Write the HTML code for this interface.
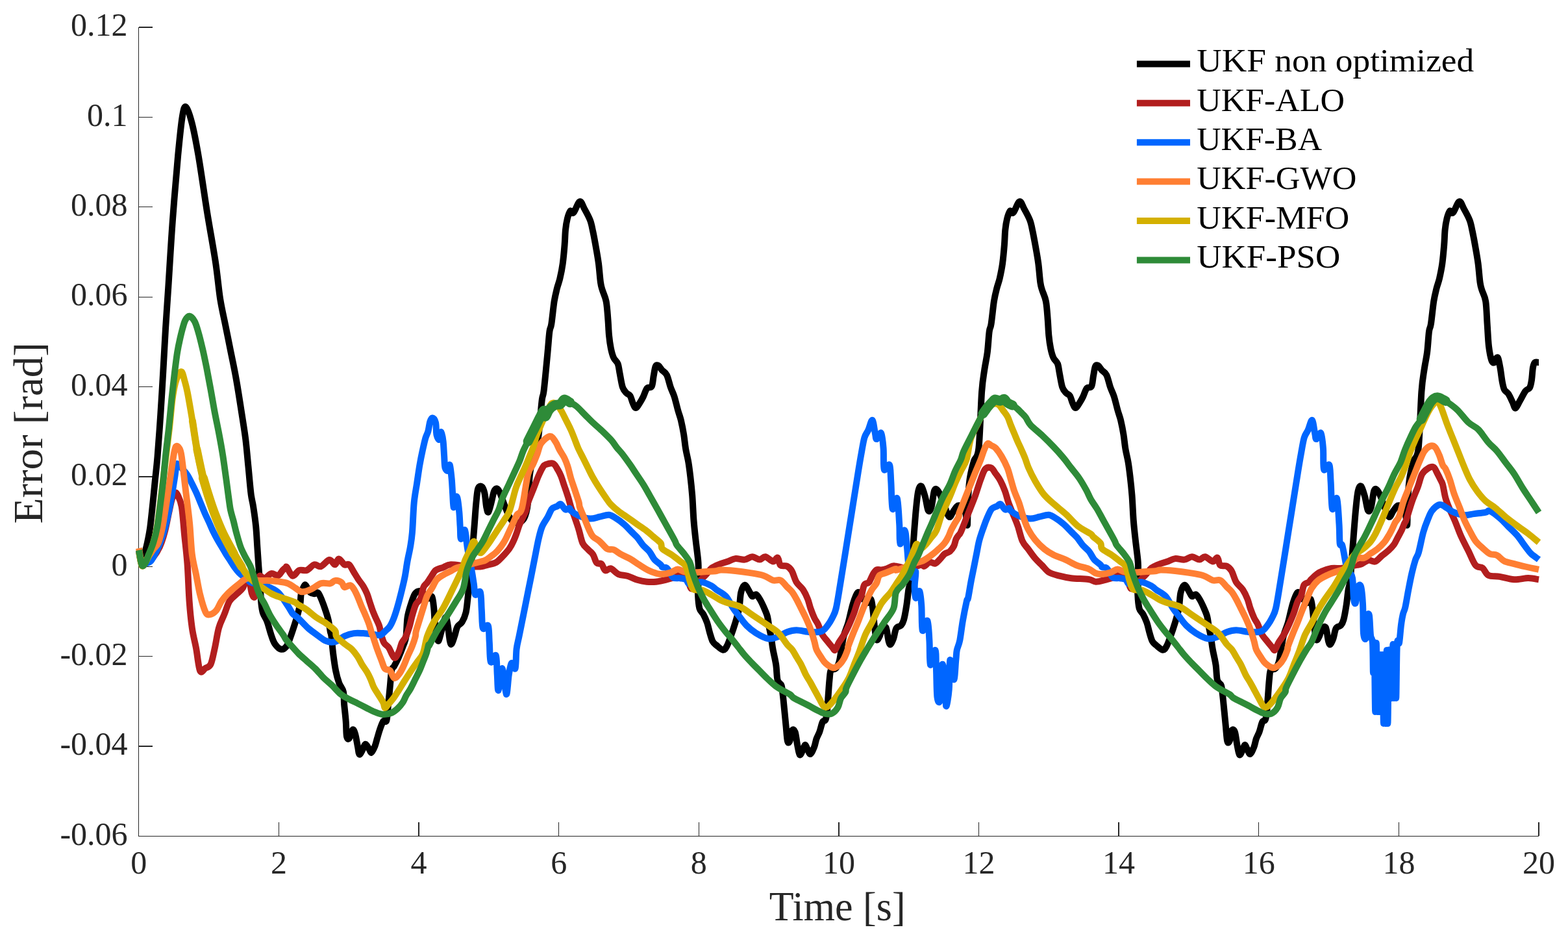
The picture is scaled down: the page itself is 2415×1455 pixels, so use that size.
<!DOCTYPE html>
<html><head><meta charset="utf-8"><title>Error plot</title>
<style>html,body{margin:0;padding:0;background:#fff;}body{width:2415px;height:1455px;overflow:hidden;}</style>
</head><body>
<svg width="2415" height="1455" viewBox="0 0 2415 1455" style="display:block">
<rect width="2415" height="1455" fill="#ffffff"/>
<g stroke="#262626" stroke-width="1.3" fill="none" shape-rendering="crispEdges">
<path d="M213.8,42.1V1287.4H2370.0"/>
<path d="M213.8,1287.4V1265.9"/>
<path d="M429.4,1287.4V1265.9"/>
<path d="M645.0,1287.4V1265.9"/>
<path d="M860.7,1287.4V1265.9"/>
<path d="M1076.3,1287.4V1265.9"/>
<path d="M1291.9,1287.4V1265.9"/>
<path d="M1507.5,1287.4V1265.9"/>
<path d="M1723.1,1287.4V1265.9"/>
<path d="M1938.8,1287.4V1265.9"/>
<path d="M2154.4,1287.4V1265.9"/>
<path d="M2370.0,1287.4V1265.9"/>
<path d="M213.8,1287.4H235.3"/>
<path d="M213.8,1149.0H235.3"/>
<path d="M213.8,1010.7H235.3"/>
<path d="M213.8,872.3H235.3"/>
<path d="M213.8,733.9H235.3"/>
<path d="M213.8,595.6H235.3"/>
<path d="M213.8,457.2H235.3"/>
<path d="M213.8,318.8H235.3"/>
<path d="M213.8,180.5H235.3"/>
<path d="M213.8,42.1H235.3"/>
</g>
<g font-family="'Liberation Serif', 'DejaVu Serif', serif" font-size="50" fill="#262626">
<text x="213.8" y="1344.5" text-anchor="middle">0</text>
<text x="429.4" y="1344.5" text-anchor="middle">2</text>
<text x="645.0" y="1344.5" text-anchor="middle">4</text>
<text x="860.7" y="1344.5" text-anchor="middle">6</text>
<text x="1076.3" y="1344.5" text-anchor="middle">8</text>
<text x="1291.9" y="1344.5" text-anchor="middle">10</text>
<text x="1507.5" y="1344.5" text-anchor="middle">12</text>
<text x="1723.1" y="1344.5" text-anchor="middle">14</text>
<text x="1938.8" y="1344.5" text-anchor="middle">16</text>
<text x="2154.4" y="1344.5" text-anchor="middle">18</text>
<text x="2370.0" y="1344.5" text-anchor="middle">20</text>
<text x="196.6" y="1300.6" text-anchor="end">-0.06</text>
<text x="196.6" y="1162.2" text-anchor="end">-0.04</text>
<text x="196.6" y="1023.9" text-anchor="end">-0.02</text>
<text x="196.6" y="885.5" text-anchor="end">0</text>
<text x="196.6" y="747.1" text-anchor="end">0.02</text>
<text x="196.6" y="608.8" text-anchor="end">0.04</text>
<text x="196.6" y="470.4" text-anchor="end">0.06</text>
<text x="196.6" y="332.0" text-anchor="end">0.08</text>
<text x="196.6" y="193.7" text-anchor="end">0.1</text>
<text x="196.6" y="55.3" text-anchor="end">0.12</text>
</g>
<text x="1289.7" y="1417" text-anchor="middle" transform="translate(1289.7,0) scale(0.970,1) translate(-1289.7,0)" font-family="'Liberation Serif', 'DejaVu Serif', serif" font-size="64" fill="#262626">Time [s]</text>
<text transform="translate(65.4,666.7) rotate(-90) scale(1.013,1)" x="0" y="0" text-anchor="middle" font-family="'Liberation Serif', 'DejaVu Serif', serif" font-size="64" fill="#262626">Error [rad]</text>
<g fill="none" stroke-width="10" stroke-linejoin="round" stroke-linecap="butt">
<path stroke="#000000" d="M214.0,848.0C214.8,851.0 216.9,865.9 218.5,866.0C220.1,866.1 222.3,853.5 223.7,848.5C225.1,843.5 225.5,842.3 226.8,836.1C228.1,829.9 229.9,821.6 231.3,811.3C232.7,801.0 234.1,786.6 235.4,774.2C236.7,761.8 237.9,748.9 239.1,737.1C240.3,725.4 241.1,720.2 242.5,703.7C243.9,687.2 245.8,659.8 247.3,637.8C248.8,615.8 250.0,593.9 251.3,571.9C252.6,549.9 253.7,528.0 255.0,506.0C256.4,484.0 257.6,468.0 259.4,440.0C261.2,412.0 263.5,371.5 266.0,338.0C268.5,304.5 271.7,265.4 274.2,239.0C276.7,212.6 278.8,192.0 280.8,179.6C282.8,167.2 283.9,163.0 286.4,164.7C288.9,166.3 292.4,177.1 295.6,189.5C298.8,201.9 301.6,216.5 305.5,239.0C309.4,261.5 314.3,297.2 318.7,324.7C323.1,352.2 328.6,381.4 332.0,404.0C335.4,426.6 336.6,443.8 339.1,460.0C341.7,476.2 344.6,487.6 347.3,501.3C350.1,515.0 352.9,528.8 355.6,542.5C358.4,556.2 361.1,568.3 363.8,583.8C366.6,599.3 369.7,619.8 372.1,635.3C374.5,650.8 376.6,662.9 378.3,676.6C380.0,690.4 381.0,703.9 382.4,717.8C383.8,731.7 385.2,749.6 386.5,760.0C387.8,770.4 388.8,771.5 390.1,780.0C391.4,788.5 393.2,800.6 394.2,810.9C395.2,821.2 395.6,831.6 396.3,841.9C397.0,852.2 397.7,863.1 398.4,872.8C399.1,882.5 399.8,890.5 400.5,900.0C401.2,909.5 401.7,922.6 402.5,930.0C403.3,937.4 403.6,939.8 405.1,944.2C406.6,948.6 409.2,951.1 411.3,956.6C413.4,962.1 415.5,971.5 417.5,977.2C419.5,983.0 420.6,987.3 423.2,991.1C425.8,994.9 430.2,999.3 433.3,999.8C436.4,1000.3 439.6,997.4 442.0,994.0C444.4,990.6 445.9,984.8 447.8,979.5C449.7,974.2 451.9,967.4 453.6,962.1C455.3,956.8 456.6,952.9 458.0,947.6C459.4,942.3 461.3,935.8 462.3,930.2C463.3,924.6 462.8,918.8 463.8,914.2C464.8,909.6 466.9,904.8 468.1,902.6C469.3,900.4 469.6,899.8 471.0,901.2C472.4,902.7 474.6,909.1 476.8,911.3C479.0,913.5 481.9,914.0 484.1,914.2C486.3,914.5 488.0,911.1 489.9,912.8C491.8,914.5 493.8,919.8 495.7,924.4C497.6,929.0 499.8,935.2 501.5,940.3C503.2,945.4 504.6,949.5 505.8,954.8C507.0,960.1 507.9,968.0 508.7,972.2C509.5,976.4 509.8,974.4 510.5,980.0C511.2,985.6 512.0,997.4 513.1,1006.1C514.2,1014.8 515.5,1024.6 517.0,1032.2C518.5,1039.8 520.3,1046.3 522.3,1051.8C524.3,1057.2 527.5,1059.5 528.8,1064.9C530.1,1070.4 529.5,1076.9 530.1,1084.5C530.8,1092.1 532.1,1102.3 532.7,1110.6C533.4,1118.9 533.1,1129.8 534.0,1134.1C534.9,1138.4 536.4,1138.5 537.9,1136.7C539.4,1135.0 541.6,1124.7 543.1,1123.6C544.6,1122.5 545.8,1125.8 547.1,1130.2C548.4,1134.6 549.9,1144.5 551.0,1149.7C552.1,1154.9 552.3,1160.8 553.6,1161.5C554.9,1162.2 557.3,1156.3 558.8,1153.7C560.3,1151.1 561.2,1146.0 562.7,1145.8C564.2,1145.6 566.5,1150.1 568.0,1152.3C569.5,1154.5 570.4,1159.3 571.9,1158.9C573.4,1158.5 575.6,1153.4 577.1,1149.7C578.6,1146.0 579.7,1141.1 581.0,1136.7C582.3,1132.3 583.4,1127.9 584.9,1123.6C586.4,1119.2 588.5,1113.0 590.2,1110.6C592.0,1108.2 594.1,1113.6 595.4,1109.3C596.7,1105.0 597.1,1093.0 598.0,1084.5C598.9,1076.0 599.7,1067.0 600.6,1058.3C601.5,1049.6 602.1,1037.6 603.2,1032.2C604.3,1026.8 605.4,1029.0 607.1,1025.7C608.9,1022.4 611.3,1018.0 613.7,1012.6C616.1,1007.2 619.5,998.5 621.5,993.1C623.5,987.7 624.4,987.1 625.4,980.0C626.4,972.9 626.3,959.0 627.6,950.5C628.9,942.0 631.5,934.8 633.4,928.7C635.3,922.7 637.0,917.3 639.2,914.2C641.4,911.1 644.3,909.9 646.5,909.9C648.7,909.9 650.1,912.3 652.3,914.2C654.5,916.1 657.3,920.8 659.5,921.5C661.7,922.2 663.8,916.2 665.3,918.6C666.8,921.0 667.5,929.5 668.2,936.0C668.9,942.5 669.0,950.5 669.7,957.7C670.4,965.0 671.6,974.7 672.6,979.5C673.6,984.3 674.3,987.9 675.5,986.7C676.7,985.5 677.9,978.2 679.8,972.2C681.7,966.2 684.9,948.1 687.1,950.5C689.3,952.9 691.5,979.9 692.9,986.7C694.3,993.5 694.6,992.3 695.8,991.1C697.0,989.9 698.6,983.9 700.1,979.5C701.6,975.1 702.6,968.6 704.5,965.0C706.4,961.4 709.5,961.3 711.7,957.7C713.9,954.1 716.0,949.2 717.5,943.2C719.0,937.2 719.4,930.0 720.4,921.5C721.4,913.0 722.3,902.2 723.3,892.5C724.3,882.8 725.0,877.1 726.2,863.5C727.4,849.9 729.3,825.9 730.5,811.0C731.7,796.1 732.4,783.8 733.4,774.0C734.4,764.2 734.8,756.3 736.3,752.2C737.8,748.1 740.4,748.1 742.1,749.3C743.8,750.5 745.2,754.2 746.4,759.5C747.6,764.8 748.3,776.4 749.3,781.2C750.3,786.0 751.0,789.7 752.2,788.5C753.4,787.3 755.2,779.3 756.6,774.0C758.0,768.7 759.5,760.2 760.9,756.6C762.3,753.0 763.8,752.0 765.3,752.2C766.8,752.4 767.8,754.2 769.6,758.0C771.4,761.8 773.6,768.8 776.0,775.0C778.4,781.2 781.8,790.3 784.1,795.0C786.4,799.7 787.7,801.3 790.0,803.0C792.3,804.7 795.3,805.5 798.0,805.0C800.7,804.5 804.0,802.5 806.0,800.0C808.0,797.5 809.0,794.3 810.2,790.0C811.4,785.7 812.1,783.9 813.1,774.0C814.1,764.1 814.5,742.6 816.0,730.5C817.5,718.4 819.6,711.2 821.8,701.5C824.0,691.8 827.4,682.2 829.1,672.5C830.8,662.8 831.0,653.2 832.0,643.5C833.0,633.8 833.9,621.8 834.9,614.5C835.9,607.2 836.4,612.0 837.8,600.0C839.2,588.0 842.1,557.1 843.5,542.2C844.9,527.3 845.4,517.6 846.4,510.4C847.4,503.2 848.1,506.5 849.3,498.8C850.5,491.1 852.2,473.2 853.6,464.0C855.1,454.8 856.6,449.5 858.0,443.7C859.4,437.9 860.8,435.5 862.3,429.2C863.8,422.9 865.5,414.7 866.7,406.0C867.9,397.3 868.9,385.7 869.6,377.0C870.3,368.3 870.3,360.6 871.0,353.8C871.7,347.0 872.7,341.2 873.9,336.4C875.1,331.6 877.3,326.2 878.3,324.8C879.3,323.4 879.0,327.5 880.0,327.7C881.0,327.9 882.1,329.1 884.3,326.2C886.5,323.3 890.3,311.0 893.0,310.3C895.7,309.6 897.6,317.1 900.3,321.9C903.0,326.7 906.8,333.5 909.0,339.3C911.2,345.1 911.8,349.9 913.3,356.7C914.8,363.5 916.2,371.7 917.7,379.9C919.2,388.1 920.8,396.8 922.0,406.0C923.2,415.2 924.0,428.2 925.0,435.0C926.0,441.8 926.4,441.8 927.8,446.6C929.2,451.4 932.1,456.3 933.6,464.0C935.1,471.7 935.8,484.3 936.5,493.0C937.2,501.7 937.3,509.0 938.0,516.2C938.7,523.4 939.7,530.6 940.9,536.4C942.1,542.2 943.4,547.1 945.2,551.0C947.0,554.9 950.1,556.1 951.6,560.0C953.1,563.9 953.3,568.5 954.5,574.5C955.7,580.5 957.2,591.1 958.9,596.2C960.6,601.3 962.8,602.8 964.7,605.0C966.6,607.2 968.8,606.6 970.5,609.3C972.2,611.9 973.3,617.8 974.8,620.9C976.2,624.0 977.5,628.1 979.2,628.1C980.9,628.1 983.1,623.8 985.0,620.9C986.9,618.0 988.9,614.6 990.8,610.7C992.7,606.8 994.4,600.4 996.6,597.7C998.8,595.1 1002.1,597.9 1003.8,594.8C1005.5,591.6 1005.7,583.9 1006.7,578.8C1007.7,573.7 1008.4,566.9 1009.6,564.3C1010.8,561.6 1012.3,561.9 1014.0,562.9C1015.7,563.9 1017.6,567.7 1019.8,570.1C1022.0,572.5 1024.8,573.0 1027.0,577.4C1029.2,581.8 1030.9,590.7 1032.8,596.2C1034.7,601.8 1036.7,604.7 1038.6,610.7C1040.5,616.8 1042.7,626.5 1044.4,632.5C1046.1,638.5 1047.3,641.0 1048.8,647.0C1050.2,653.0 1051.9,661.5 1053.1,668.7C1054.3,676.0 1054.8,683.2 1056.0,690.5C1057.2,697.8 1059.2,705.0 1060.4,712.2C1061.6,719.5 1062.3,725.5 1063.3,734.0C1064.3,742.5 1065.3,751.8 1066.2,763.0C1067.1,774.2 1067.6,790.2 1068.5,801.5C1069.4,812.8 1070.3,820.6 1071.4,830.5C1072.5,840.4 1074.3,853.5 1075.0,860.6C1075.7,867.7 1075.6,866.4 1075.7,873.0C1075.8,879.6 1075.6,892.9 1075.5,900.0C1075.4,907.1 1074.7,909.4 1075.0,915.6C1075.3,921.8 1076.0,932.0 1077.4,937.0C1078.8,942.0 1081.3,942.1 1083.2,945.7C1085.1,949.3 1087.3,953.9 1089.0,958.7C1090.7,963.5 1091.8,969.9 1093.3,974.7C1094.8,979.5 1096.0,984.6 1097.7,987.7C1099.4,990.8 1100.8,991.3 1103.5,993.5C1106.2,995.7 1110.9,1000.5 1113.6,1000.8C1116.2,1001.0 1117.5,998.4 1119.4,995.0C1121.3,991.6 1123.0,986.5 1125.2,980.5C1127.4,974.5 1130.3,966.0 1132.5,958.7C1134.7,951.5 1136.8,944.7 1138.3,937.0C1139.8,929.3 1139.8,918.3 1141.2,912.3C1142.7,906.2 1144.8,900.9 1147.0,900.7C1149.2,900.5 1152.3,908.0 1154.2,910.9C1156.1,913.8 1156.9,917.4 1158.6,918.1C1160.3,918.8 1162.5,914.5 1164.4,915.2C1166.3,915.9 1168.3,919.4 1170.2,922.5C1172.1,925.6 1174.1,929.8 1176.0,934.1C1177.9,938.5 1180.3,943.3 1181.8,948.6C1183.2,953.9 1183.7,960.7 1184.7,966.0C1185.7,971.3 1186.6,974.8 1187.6,980.5C1188.6,986.2 1189.2,992.8 1190.5,1000.0C1191.8,1007.2 1194.0,1015.7 1195.2,1023.5C1196.4,1031.3 1196.2,1041.7 1197.6,1047.0C1199.0,1052.3 1202.1,1051.3 1203.5,1055.2C1204.9,1059.1 1205.0,1064.0 1205.8,1070.5C1206.6,1077.0 1207.4,1086.2 1208.2,1094.0C1209.0,1101.8 1209.7,1109.7 1210.5,1117.5C1211.3,1125.3 1211.9,1137.1 1212.9,1141.0C1213.9,1144.9 1215.2,1143.7 1216.4,1141.0C1217.6,1138.3 1218.5,1126.9 1219.9,1124.6C1221.3,1122.2 1223.2,1123.2 1224.6,1126.9C1226.0,1130.6 1226.9,1141.0 1228.1,1146.9C1229.3,1152.8 1230.3,1160.8 1231.7,1162.2C1233.1,1163.6 1235.0,1157.6 1236.4,1155.1C1237.8,1152.5 1238.7,1147.3 1239.9,1146.9C1241.1,1146.5 1242.0,1150.5 1243.4,1152.8C1244.8,1155.1 1246.3,1161.4 1248.1,1161.0C1249.9,1160.6 1252.4,1154.3 1254.0,1150.4C1255.6,1146.5 1256.1,1141.4 1257.5,1137.5C1258.9,1133.6 1260.6,1131.2 1262.2,1126.9C1263.8,1122.6 1265.3,1114.7 1266.9,1111.6C1268.5,1108.5 1270.4,1111.0 1271.6,1108.1C1272.8,1105.2 1273.3,1100.3 1274.0,1094.0C1274.7,1087.7 1275.1,1078.3 1275.7,1070.5C1276.3,1062.7 1276.8,1053.5 1277.5,1047.0C1278.2,1040.5 1278.2,1034.6 1279.8,1031.7C1281.4,1028.8 1284.7,1031.8 1286.9,1029.4C1289.1,1027.1 1290.8,1025.8 1292.8,1017.6C1294.8,1009.5 1296.9,990.3 1299.2,980.5C1301.5,970.7 1304.1,967.2 1306.5,958.7C1308.9,950.2 1311.3,937.4 1313.7,929.7C1316.1,922.0 1318.8,914.2 1321.0,912.3C1323.2,910.4 1324.4,915.4 1326.8,918.1C1329.2,920.8 1333.1,927.6 1335.5,928.3C1337.9,929.0 1339.8,921.0 1341.3,922.5C1342.8,924.0 1343.2,929.8 1344.2,937.0C1345.2,944.2 1346.1,958.0 1347.1,966.0C1348.1,974.0 1348.8,982.4 1350.0,984.8C1351.2,987.2 1352.8,983.1 1354.3,980.5C1355.8,977.9 1357.0,971.3 1358.7,968.9C1360.4,966.5 1362.8,962.9 1364.5,966.0C1366.2,969.1 1367.6,983.4 1368.8,987.7C1370.0,992.1 1370.5,992.8 1371.7,992.1C1372.9,991.4 1374.6,987.5 1376.1,983.4C1377.5,979.3 1378.5,970.8 1380.4,967.4C1382.3,964.0 1385.8,965.3 1387.7,963.1C1389.6,960.9 1390.5,959.7 1392.0,954.4C1393.5,949.1 1395.2,938.9 1396.4,931.2C1397.6,923.5 1398.3,914.3 1399.3,908.0C1400.3,901.7 1401.0,904.5 1402.2,893.5C1403.4,882.5 1404.8,860.4 1406.2,842.1C1407.7,823.8 1409.5,798.0 1410.9,783.6C1412.3,769.2 1413.0,761.4 1414.4,755.6C1415.8,749.8 1417.3,747.1 1419.1,748.6C1420.8,750.1 1423.2,758.7 1424.9,764.9C1426.7,771.1 1428.0,783.3 1429.6,786.0C1431.2,788.7 1432.7,786.4 1434.3,781.3C1435.9,776.2 1437.5,760.1 1439.0,755.6C1440.5,751.1 1442.0,753.2 1443.6,754.4C1445.1,755.6 1446.4,758.3 1448.3,762.6C1450.2,766.9 1452.7,774.5 1455.0,780.0C1457.3,785.5 1459.8,794.9 1462.1,795.9C1464.4,796.9 1466.7,789.1 1468.9,786.2C1471.2,783.3 1473.4,779.4 1475.6,778.5C1477.8,777.6 1480.1,779.1 1482.0,781.0C1483.9,782.9 1485.8,786.3 1487.0,790.0C1488.2,793.7 1488.5,800.0 1489.0,803.0C1489.5,806.0 1489.8,810.2 1490.0,808.0C1490.2,805.8 1490.2,798.0 1490.5,790.0C1490.8,782.0 1490.9,769.2 1491.5,760.0C1492.1,750.8 1492.6,743.3 1494.0,735.0C1495.4,726.7 1497.8,717.5 1500.0,710.0C1502.2,702.5 1505.4,707.8 1507.4,690.0C1509.4,672.2 1510.6,623.4 1512.1,603.1C1513.6,582.8 1515.0,578.4 1516.4,568.3C1517.9,558.1 1519.6,551.9 1520.8,542.2C1522.0,532.6 1522.7,517.6 1523.7,510.4C1524.7,503.2 1525.4,506.5 1526.6,498.8C1527.8,491.1 1529.5,473.2 1530.9,464.0C1532.4,454.8 1533.8,449.5 1535.3,443.7C1536.8,437.9 1538.1,435.5 1539.6,429.2C1541.0,422.9 1542.8,414.7 1544.0,406.0C1545.2,397.3 1546.2,385.7 1546.9,377.0C1547.6,368.3 1547.6,360.6 1548.3,353.8C1549.0,347.0 1550.0,341.2 1551.2,336.4C1552.4,331.6 1554.6,326.2 1555.6,324.8C1556.6,323.4 1556.3,327.5 1557.3,327.7C1558.3,327.9 1559.4,329.1 1561.6,326.2C1563.8,323.3 1567.6,311.0 1570.3,310.3C1573.0,309.6 1574.9,317.1 1577.6,321.9C1580.3,326.7 1584.1,333.5 1586.3,339.3C1588.5,345.1 1589.1,349.9 1590.6,356.7C1592.0,363.5 1593.5,371.7 1595.0,379.9C1596.5,388.1 1598.1,396.8 1599.3,406.0C1600.5,415.2 1601.3,428.2 1602.3,435.0C1603.3,441.8 1603.7,441.8 1605.1,446.6C1606.5,451.4 1609.5,456.3 1610.9,464.0C1612.4,471.7 1613.1,484.3 1613.8,493.0C1614.5,501.7 1614.6,509.0 1615.3,516.2C1616.0,523.4 1617.0,530.6 1618.2,536.4C1619.4,542.2 1620.7,547.1 1622.5,551.0C1624.3,554.9 1627.4,556.1 1628.9,560.0C1630.5,563.9 1630.6,568.5 1631.8,574.5C1633.0,580.5 1634.5,591.1 1636.2,596.2C1637.9,601.3 1640.1,602.8 1642.0,605.0C1643.9,607.2 1646.1,606.6 1647.8,609.3C1649.5,611.9 1650.6,617.8 1652.1,620.9C1653.5,624.0 1654.8,628.1 1656.5,628.1C1658.2,628.1 1660.4,623.8 1662.3,620.9C1664.2,618.0 1666.2,614.6 1668.1,610.7C1670.0,606.8 1671.7,600.4 1673.9,597.7C1676.1,595.1 1679.4,597.9 1681.1,594.8C1682.8,591.6 1683.0,583.9 1684.0,578.8C1685.0,573.7 1685.7,566.9 1686.9,564.3C1688.1,561.6 1689.6,561.9 1691.3,562.9C1693.0,563.9 1694.9,567.7 1697.1,570.1C1699.3,572.5 1702.1,573.0 1704.3,577.4C1706.5,581.8 1708.2,590.7 1710.1,596.2C1712.0,601.8 1714.0,604.7 1715.9,610.7C1717.8,616.8 1720.0,626.5 1721.7,632.5C1723.4,638.5 1724.6,641.0 1726.1,647.0C1727.5,653.0 1729.2,661.5 1730.4,668.7C1731.6,676.0 1732.1,683.2 1733.3,690.5C1734.5,697.8 1736.5,705.0 1737.7,712.2C1738.9,719.5 1739.6,725.5 1740.6,734.0C1741.6,742.5 1742.6,751.8 1743.5,763.0C1744.4,774.2 1744.9,790.2 1745.8,801.5C1746.7,812.8 1747.6,820.6 1748.7,830.5C1749.8,840.4 1751.6,853.5 1752.3,860.6C1753.0,867.7 1752.9,866.4 1753.0,873.0C1753.1,879.6 1752.9,892.9 1752.8,900.0C1752.7,907.1 1752.0,909.4 1752.3,915.6C1752.6,921.8 1753.3,932.0 1754.7,937.0C1756.1,942.0 1758.6,942.1 1760.5,945.7C1762.4,949.3 1764.6,953.9 1766.3,958.7C1768.0,963.5 1769.1,969.9 1770.6,974.7C1772.0,979.5 1773.3,984.6 1775.0,987.7C1776.7,990.8 1778.2,991.3 1780.8,993.5C1783.4,995.7 1788.2,1000.5 1790.9,1000.8C1793.5,1001.0 1794.8,998.4 1796.7,995.0C1798.6,991.6 1800.3,986.5 1802.5,980.5C1804.7,974.5 1807.6,966.0 1809.8,958.7C1812.0,951.5 1814.1,944.7 1815.6,937.0C1817.0,929.3 1817.0,918.3 1818.5,912.3C1820.0,906.2 1822.1,900.9 1824.3,900.7C1826.5,900.5 1829.6,908.0 1831.5,910.9C1833.4,913.8 1834.2,917.4 1835.9,918.1C1837.6,918.8 1839.8,914.5 1841.7,915.2C1843.6,915.9 1845.6,919.4 1847.5,922.5C1849.4,925.6 1851.4,929.8 1853.3,934.1C1855.2,938.5 1857.6,943.3 1859.1,948.6C1860.5,953.9 1861.0,960.7 1862.0,966.0C1863.0,971.3 1863.9,974.8 1864.9,980.5C1865.9,986.2 1866.5,992.8 1867.8,1000.0C1869.1,1007.2 1871.3,1015.7 1872.5,1023.5C1873.7,1031.3 1873.5,1041.7 1874.9,1047.0C1876.3,1052.3 1879.4,1051.3 1880.8,1055.2C1882.2,1059.1 1882.3,1064.0 1883.1,1070.5C1883.9,1077.0 1884.7,1086.2 1885.5,1094.0C1886.3,1101.8 1887.0,1109.7 1887.8,1117.5C1888.6,1125.3 1889.2,1137.1 1890.2,1141.0C1891.2,1144.9 1892.5,1143.7 1893.7,1141.0C1894.9,1138.3 1895.8,1126.9 1897.2,1124.6C1898.6,1122.2 1900.5,1123.2 1901.9,1126.9C1903.3,1130.6 1904.2,1141.0 1905.4,1146.9C1906.6,1152.8 1907.6,1160.8 1909.0,1162.2C1910.4,1163.6 1912.3,1157.6 1913.7,1155.1C1915.1,1152.5 1916.0,1147.3 1917.2,1146.9C1918.4,1146.5 1919.3,1150.5 1920.7,1152.8C1922.1,1155.1 1923.6,1161.4 1925.4,1161.0C1927.2,1160.6 1929.7,1154.3 1931.3,1150.4C1932.9,1146.5 1933.4,1141.4 1934.8,1137.5C1936.2,1133.6 1937.9,1131.2 1939.5,1126.9C1941.1,1122.6 1942.6,1114.7 1944.2,1111.6C1945.8,1108.5 1947.7,1111.0 1948.9,1108.1C1950.1,1105.2 1950.6,1100.3 1951.3,1094.0C1952.0,1087.7 1952.4,1078.3 1953.0,1070.5C1953.6,1062.7 1954.1,1053.5 1954.8,1047.0C1955.5,1040.5 1955.5,1034.6 1957.1,1031.7C1958.7,1028.8 1962.0,1031.8 1964.2,1029.4C1966.4,1027.1 1968.0,1025.8 1970.1,1017.6C1972.1,1009.5 1974.2,990.3 1976.5,980.5C1978.8,970.7 1981.4,967.2 1983.8,958.7C1986.2,950.2 1988.6,937.4 1991.0,929.7C1993.4,922.0 1996.1,914.2 1998.3,912.3C2000.5,910.4 2001.7,915.4 2004.1,918.1C2006.5,920.8 2010.4,927.6 2012.8,928.3C2015.2,929.0 2017.1,921.0 2018.6,922.5C2020.0,924.0 2020.5,929.8 2021.5,937.0C2022.5,944.2 2023.4,958.0 2024.4,966.0C2025.4,974.0 2026.1,982.4 2027.3,984.8C2028.5,987.2 2030.1,983.1 2031.6,980.5C2033.0,977.9 2034.3,971.3 2036.0,968.9C2037.7,966.5 2040.1,962.9 2041.8,966.0C2043.5,969.1 2044.9,983.4 2046.1,987.7C2047.3,992.1 2047.8,992.8 2049.0,992.1C2050.2,991.4 2051.9,987.5 2053.4,983.4C2054.8,979.3 2055.8,970.8 2057.7,967.4C2059.6,964.0 2063.1,965.3 2065.0,963.1C2066.9,960.9 2067.9,959.7 2069.3,954.4C2070.8,949.1 2072.5,938.9 2073.7,931.2C2074.9,923.5 2075.6,914.3 2076.6,908.0C2077.6,901.7 2078.3,904.5 2079.5,893.5C2080.7,882.5 2082.1,860.4 2083.5,842.1C2084.9,823.8 2086.8,798.0 2088.2,783.6C2089.6,769.2 2090.3,761.4 2091.7,755.6C2093.1,749.8 2094.6,747.1 2096.4,748.6C2098.1,750.1 2100.4,758.7 2102.2,764.9C2103.9,771.1 2105.3,783.3 2106.9,786.0C2108.5,788.7 2110.0,786.4 2111.6,781.3C2113.2,776.2 2114.8,760.1 2116.3,755.6C2117.9,751.1 2119.3,753.2 2120.9,754.4C2122.4,755.6 2123.7,758.3 2125.6,762.6C2127.5,766.9 2130.0,774.5 2132.3,780.0C2134.6,785.5 2137.1,794.9 2139.4,795.9C2141.7,796.9 2143.9,789.1 2146.2,786.2C2148.4,783.3 2150.7,779.4 2152.9,778.5C2155.1,777.6 2157.4,779.1 2159.3,781.0C2161.2,782.9 2163.1,786.3 2164.3,790.0C2165.5,793.7 2165.8,800.0 2166.3,803.0C2166.8,806.0 2167.1,810.2 2167.3,808.0C2167.6,805.8 2167.6,798.0 2167.8,790.0C2168.1,782.0 2168.2,769.2 2168.8,760.0C2169.4,750.8 2169.9,743.3 2171.3,735.0C2172.7,726.7 2175.1,717.5 2177.3,710.0C2179.5,702.5 2182.7,707.8 2184.7,690.0C2186.7,672.2 2187.9,623.4 2189.4,603.1C2190.9,582.8 2192.2,578.4 2193.7,568.3C2195.1,558.1 2196.9,551.9 2198.1,542.2C2199.3,532.6 2200.0,517.6 2201.0,510.4C2202.0,503.2 2202.7,506.5 2203.9,498.8C2205.1,491.1 2206.8,473.2 2208.2,464.0C2209.6,454.8 2211.2,449.5 2212.6,443.7C2214.0,437.9 2215.4,435.5 2216.9,429.2C2218.3,422.9 2220.1,414.7 2221.3,406.0C2222.5,397.3 2223.5,385.7 2224.2,377.0C2224.9,368.3 2224.9,360.6 2225.6,353.8C2226.3,347.0 2227.3,341.2 2228.5,336.4C2229.7,331.6 2231.9,326.2 2232.9,324.8C2233.9,323.4 2233.6,327.5 2234.6,327.7C2235.6,327.9 2236.7,329.1 2238.9,326.2C2241.1,323.3 2244.9,311.0 2247.6,310.3C2250.3,309.6 2252.2,317.1 2254.9,321.9C2257.6,326.7 2261.4,333.5 2263.6,339.3C2265.8,345.1 2266.4,349.9 2267.9,356.7C2269.3,363.5 2270.9,371.7 2272.3,379.9C2273.8,388.1 2275.4,396.8 2276.6,406.0C2277.8,415.2 2278.6,428.2 2279.6,435.0C2280.6,441.8 2281.0,441.8 2282.4,446.6C2283.8,451.4 2286.8,455.1 2288.2,464.0C2289.6,472.9 2289.9,488.5 2290.7,500.0C2291.5,511.5 2291.9,523.8 2293.0,533.0C2294.1,542.2 2295.9,550.8 2297.3,555.0C2298.8,559.2 2300.4,558.7 2301.7,558.0C2303.0,557.3 2304.0,552.0 2305.0,551.0C2306.0,550.0 2306.6,549.5 2307.5,552.0C2308.4,554.5 2309.4,560.0 2310.5,566.0C2311.6,572.0 2312.7,582.3 2313.8,588.0C2314.9,593.7 2315.4,596.9 2317.0,600.0C2318.6,603.1 2321.1,603.1 2323.2,606.4C2325.3,609.7 2328.0,615.9 2329.8,619.6C2331.6,623.3 2332.4,628.8 2334.2,628.4C2336.0,628.0 2338.2,621.8 2340.8,617.4C2343.4,613.0 2347.0,605.4 2349.5,602.0C2352.0,598.6 2354.4,599.8 2356.0,597.0C2357.6,594.2 2358.2,590.2 2359.0,585.0C2359.8,579.8 2360.2,570.5 2361.0,566.0C2361.8,561.5 2362.5,559.3 2364.0,558.0C2365.5,556.7 2369.0,558.0 2370.0,558.0"/>
<path stroke="#B21E1E" d="M214.0,848.0C214.8,851.7 216.5,867.0 218.5,870.0C220.5,873.0 223.1,868.0 226.0,866.0C228.9,864.0 232.7,862.0 236.0,858.0C239.3,854.0 243.0,848.7 246.0,842.0C249.0,835.3 251.7,826.7 254.0,818.0C256.3,809.3 258.2,798.3 260.0,790.0C261.8,781.7 263.4,773.1 265.0,768.0C266.6,762.9 268.1,760.6 269.4,759.4C270.7,758.2 271.3,757.6 273.0,761.0C274.7,764.4 277.8,769.3 279.7,779.8C281.6,790.2 282.6,809.1 284.1,823.7C285.6,838.4 287.2,850.7 288.5,867.7C289.8,884.7 290.4,909.1 291.6,925.6C292.8,942.1 294.1,954.9 295.8,966.9C297.5,978.9 299.9,986.8 302.0,997.8C304.1,1008.8 305.7,1027.7 308.1,1032.9C310.5,1038.1 313.6,1030.5 316.4,1028.8C319.1,1027.1 322.2,1027.8 324.6,1022.6C327.0,1017.4 328.7,1007.1 330.8,997.8C332.9,988.5 334.6,975.5 337.0,966.9C339.4,958.3 342.6,953.2 345.3,946.3C348.1,939.4 350.4,930.8 353.5,925.6C356.6,920.4 360.4,918.7 363.8,915.3C367.2,911.9 371.8,908.6 374.1,905.0C376.4,901.4 376.9,896.9 377.7,893.4C378.5,889.9 377.8,884.1 378.8,884.1C379.8,884.1 382.4,888.4 383.9,893.4C385.4,898.4 386.6,909.7 388.0,914.0C389.4,918.3 390.9,920.7 392.2,919.2C393.5,917.7 394.8,910.3 396.0,905.0C397.2,899.7 397.5,889.7 399.4,887.2C401.3,884.8 404.5,891.0 407.6,890.3C410.7,889.6 414.5,883.8 417.9,883.1C421.3,882.4 425.3,887.1 428.2,886.2C431.1,885.3 433.5,879.9 435.5,877.9C437.5,875.9 438.9,874.7 440.0,874.0C441.1,873.3 440.2,871.5 442.0,873.6C443.8,875.7 447.6,886.0 450.7,886.7C453.8,887.4 457.3,879.5 460.9,878.0C464.5,876.5 468.6,879.5 472.5,878.0C476.4,876.5 480.5,870.3 484.1,869.3C487.7,868.3 490.3,873.4 494.2,872.2C498.1,871.0 503.7,862.5 507.3,862.0C510.9,861.5 513.6,869.5 516.0,869.3C518.4,869.1 519.4,860.6 521.8,860.6C524.2,860.6 527.9,867.8 530.5,869.3C533.1,870.8 535.3,867.4 537.7,869.3C540.1,871.2 542.6,877.0 545.0,880.9C547.4,884.8 549.8,888.9 552.2,892.5C554.6,896.1 557.3,899.0 559.5,902.6C561.7,906.2 563.6,910.1 565.3,914.2C567.0,918.3 568.1,922.9 569.6,927.3C571.1,931.6 572.5,936.4 574.0,940.3C575.5,944.2 576.6,946.6 578.3,950.5C580.0,954.4 582.6,959.1 584.1,963.5C585.6,967.9 585.8,972.2 587.0,976.6C588.2,981.0 589.5,986.2 591.4,989.6C593.3,993.0 596.4,993.8 598.6,996.9C600.8,1000.0 602.7,1005.9 604.4,1008.5C606.1,1011.1 607.1,1013.8 608.8,1012.8C610.5,1011.8 612.9,1006.6 614.6,1002.7C616.3,998.8 617.2,993.2 618.9,989.6C620.6,986.0 622.8,985.0 624.7,980.9C626.6,976.8 628.8,970.5 630.5,965.0C632.2,959.5 633.2,953.4 634.9,947.6C636.6,941.8 638.5,934.6 640.7,930.2C642.9,925.9 646.0,925.9 647.9,921.5C649.8,917.1 650.6,908.2 652.3,904.1C654.0,900.0 656.2,899.5 658.1,896.8C660.0,894.1 661.7,891.2 663.9,888.1C666.1,885.0 668.0,880.4 671.1,878.0C674.2,875.6 678.8,875.1 682.7,873.6C686.6,872.1 688.1,869.6 694.3,869.3C700.5,869.0 712.5,871.5 720.0,872.0C727.5,872.5 734.9,872.6 739.5,872.4C744.1,872.2 743.9,871.7 747.7,870.7C751.6,869.7 759.2,868.0 762.6,866.6C766.0,865.2 766.1,864.6 768.4,862.5C770.7,860.4 773.9,857.2 776.6,854.2C779.3,851.2 782.5,847.7 784.8,844.3C787.1,840.9 788.8,837.5 790.6,833.6C792.4,829.8 794.1,825.3 795.6,821.2C797.1,817.1 798.1,813.0 799.7,808.9C801.4,804.8 803.8,800.2 805.5,796.5C807.2,792.8 808.7,790.4 810.0,786.6C811.3,782.9 811.1,779.7 813.1,774.0C815.1,768.3 819.1,759.0 821.8,752.2C824.5,745.4 826.7,739.0 829.1,733.4C831.5,727.8 834.3,721.9 836.3,718.9C838.2,715.9 838.2,716.0 840.8,715.1C843.4,714.2 848.9,712.4 852.0,713.8C855.1,715.2 857.4,720.4 859.4,723.7C861.4,727.0 862.6,729.5 864.3,733.6C865.9,737.7 867.4,742.9 869.3,748.5C871.2,754.1 873.9,761.8 875.5,767.0C877.1,772.2 877.5,774.7 879.2,780.0C880.9,785.3 883.7,792.6 885.8,798.6C887.9,804.6 889.7,809.7 891.6,816.0C893.5,822.3 895.0,831.2 897.4,836.3C899.8,841.4 903.5,843.5 906.1,846.4C908.8,849.3 911.1,850.3 913.3,853.7C915.5,857.1 916.9,864.3 919.1,866.7C921.3,869.1 924.2,866.3 926.4,868.2C928.6,870.1 929.8,877.1 932.2,878.3C934.6,879.5 937.5,874.4 940.9,875.4C944.3,876.4 948.1,882.2 952.5,884.1C956.9,886.0 962.2,885.5 967.0,887.0C971.8,888.5 976.7,891.3 981.5,892.8C986.3,894.2 991.2,895.2 996.0,895.7C1000.8,896.2 1005.7,896.2 1010.5,895.7C1015.3,895.2 1020.2,894.0 1025.0,892.8C1029.8,891.6 1034.8,890.2 1039.5,888.5C1044.2,886.8 1049.6,881.5 1053.0,882.6C1056.4,883.7 1058.0,891.0 1060.0,895.0C1062.0,899.0 1062.7,905.6 1064.7,906.4C1066.7,907.2 1069.5,902.4 1072.0,900.0C1074.5,897.6 1077.3,894.7 1080.0,892.0C1082.7,889.3 1085.3,886.9 1088.0,884.0C1090.7,881.1 1092.9,877.1 1096.2,874.6C1099.5,872.1 1103.7,870.5 1107.8,868.8C1111.9,867.1 1116.8,866.0 1120.9,864.5C1125.0,863.0 1128.2,860.6 1132.5,860.1C1136.8,859.6 1142.7,862.1 1147.0,861.6C1151.3,861.1 1154.7,857.2 1158.6,857.2C1162.5,857.2 1166.8,861.6 1170.2,861.6C1173.6,861.6 1175.5,856.7 1178.9,857.2C1182.3,857.7 1187.4,864.2 1190.5,864.5C1193.6,864.8 1195.8,857.7 1197.7,858.7C1199.6,859.7 1199.7,868.1 1202.1,870.3C1204.5,872.5 1209.3,870.2 1212.2,871.7C1215.1,873.2 1217.1,874.9 1219.5,879.0C1221.9,883.1 1223.8,891.6 1226.7,896.4C1229.6,901.2 1234.0,903.6 1236.9,908.0C1239.8,912.4 1242.2,917.7 1244.1,922.5C1246.0,927.3 1246.8,932.2 1248.5,937.0C1250.2,941.8 1252.4,947.4 1254.3,951.5C1256.2,955.6 1258.2,957.5 1260.1,961.6C1262.0,965.7 1263.5,971.8 1265.9,976.1C1268.3,980.5 1271.9,984.3 1274.6,987.7C1277.2,991.1 1279.9,994.2 1281.8,996.4C1283.7,998.6 1284.5,1002.0 1286.2,1000.8C1287.9,999.6 1289.6,993.3 1292.0,989.2C1294.4,985.1 1298.0,980.7 1300.7,976.1C1303.4,971.5 1305.5,966.9 1307.9,961.6C1310.3,956.3 1313.0,950.0 1315.2,944.2C1317.4,938.4 1319.1,931.4 1321.0,926.8C1322.9,922.2 1325.1,921.1 1326.8,916.7C1328.5,912.4 1329.2,904.1 1331.1,900.7C1333.0,897.3 1336.2,899.0 1338.4,896.4C1340.6,893.8 1342.3,887.9 1344.2,884.8C1346.1,881.6 1347.8,878.7 1350.0,877.5C1352.2,876.3 1354.8,877.7 1357.2,877.5C1359.6,877.3 1361.6,877.1 1364.5,876.1C1367.4,875.1 1372.0,872.4 1374.6,871.7C1377.2,871.0 1375.8,871.2 1380.0,871.7C1384.2,872.2 1393.4,875.4 1400.0,875.0C1406.6,874.6 1415.5,870.1 1419.4,869.6C1423.3,869.1 1421.5,872.4 1423.6,871.7C1425.7,871.0 1429.1,866.2 1431.9,865.5C1434.7,864.8 1437.6,868.3 1440.2,867.6C1442.8,866.9 1445.1,863.7 1447.5,861.3C1449.9,858.9 1452.1,855.1 1454.7,853.0C1457.3,850.9 1460.6,851.0 1463.0,848.9C1465.4,846.8 1467.6,843.7 1469.2,840.6C1470.8,837.5 1471.2,833.0 1472.4,830.2C1473.6,827.4 1475.2,825.9 1476.5,824.0C1477.8,822.1 1477.6,824.1 1480.0,818.7C1482.4,813.4 1487.1,800.8 1490.7,791.9C1494.3,783.0 1498.1,774.0 1501.4,765.1C1504.7,756.2 1507.7,745.4 1510.4,738.3C1513.1,731.1 1514.8,725.2 1517.5,722.2C1520.2,719.2 1523.8,719.2 1526.5,720.4C1529.2,721.6 1531.2,726.1 1533.6,729.4C1536.0,732.7 1538.4,735.6 1540.8,740.1C1543.2,744.6 1545.8,750.6 1547.9,756.2C1550.0,761.9 1551.2,768.0 1553.3,774.0C1555.4,780.0 1558.0,785.9 1560.4,791.9C1562.8,797.9 1565.2,802.9 1567.6,809.8C1570.0,816.6 1572.0,827.0 1574.7,833.0C1577.4,839.0 1580.4,841.0 1583.7,845.5C1587.0,850.0 1590.8,855.6 1594.4,859.8C1598.0,864.0 1601.5,867.0 1605.1,870.6C1608.7,874.2 1611.3,878.6 1615.8,881.3C1620.3,884.0 1626.2,885.1 1631.9,886.6C1637.6,888.1 1642.3,889.3 1649.8,890.2C1657.2,891.1 1670.3,891.1 1676.6,892.0C1682.9,892.9 1683.5,895.6 1687.8,895.7C1692.1,895.8 1697.5,894.0 1702.3,892.8C1707.1,891.6 1712.1,890.2 1716.8,888.5C1721.5,886.8 1726.9,881.5 1730.3,882.6C1733.7,883.7 1735.3,891.0 1737.3,895.0C1739.2,899.0 1740.0,905.6 1742.0,906.4C1744.0,907.2 1746.8,902.4 1749.3,900.0C1751.8,897.6 1754.6,894.7 1757.3,892.0C1760.0,889.3 1762.6,886.9 1765.3,884.0C1768.0,881.1 1770.2,877.1 1773.5,874.6C1776.8,872.1 1781.0,870.5 1785.1,868.8C1789.2,867.1 1794.1,866.0 1798.2,864.5C1802.3,863.0 1805.5,860.6 1809.8,860.1C1814.1,859.6 1820.0,862.1 1824.3,861.6C1828.6,861.1 1832.0,857.2 1835.9,857.2C1839.8,857.2 1844.1,861.6 1847.5,861.6C1850.9,861.6 1852.8,856.7 1856.2,857.2C1859.6,857.7 1864.7,864.2 1867.8,864.5C1870.9,864.8 1873.1,857.7 1875.0,858.7C1876.9,859.7 1877.0,868.1 1879.4,870.3C1881.8,872.5 1886.6,870.2 1889.5,871.7C1892.4,873.2 1894.4,874.9 1896.8,879.0C1899.2,883.1 1901.1,891.6 1904.0,896.4C1906.9,901.2 1911.3,903.6 1914.2,908.0C1917.1,912.4 1919.5,917.7 1921.4,922.5C1923.3,927.3 1924.1,932.2 1925.8,937.0C1927.5,941.8 1929.7,947.4 1931.6,951.5C1933.5,955.6 1935.5,957.5 1937.4,961.6C1939.3,965.7 1940.8,971.8 1943.2,976.1C1945.6,980.5 1949.2,984.3 1951.9,987.7C1954.5,991.1 1957.2,994.2 1959.1,996.4C1961.0,998.6 1961.8,1002.0 1963.5,1000.8C1965.2,999.6 1966.9,993.3 1969.3,989.2C1971.7,985.1 1975.3,980.7 1978.0,976.1C1980.7,971.5 1982.8,966.9 1985.2,961.6C1987.6,956.3 1990.3,950.0 1992.5,944.2C1994.7,938.4 1996.4,931.4 1998.3,926.8C2000.2,922.2 2002.4,921.1 2004.1,916.7C2005.8,912.4 2006.5,904.1 2008.4,900.7C2010.3,897.3 2013.8,897.9 2015.7,896.4C2017.6,894.9 2017.2,894.0 2020.0,891.5C2022.8,889.0 2027.2,884.0 2032.4,881.2C2037.6,878.5 2045.4,876.0 2050.9,875.0C2056.4,874.0 2060.6,875.5 2065.4,875.0C2070.2,874.5 2075.9,872.8 2080.0,872.0C2084.1,871.2 2087.1,870.7 2090.0,870.0C2092.9,869.3 2094.5,869.2 2097.5,868.0C2100.5,866.8 2104.4,863.1 2107.8,862.5C2111.2,861.9 2114.7,865.6 2118.1,864.5C2121.5,863.4 2125.0,858.5 2128.4,855.6C2131.8,852.8 2135.6,850.3 2138.7,847.4C2141.8,844.5 2144.7,841.6 2147.0,838.4C2149.3,835.2 2150.7,831.5 2152.5,828.1C2154.3,824.7 2156.2,821.5 2158.0,817.8C2159.8,814.1 2161.7,809.0 2163.0,806.0C2164.3,803.0 2164.0,805.7 2166.0,800.0C2168.0,794.3 2171.9,780.3 2174.8,772.0C2177.7,763.7 2181.0,757.0 2183.6,750.0C2186.2,743.0 2187.6,735.0 2190.2,730.2C2192.8,725.4 2196.1,723.2 2199.0,721.4C2201.9,719.6 2205.4,718.1 2207.8,719.2C2210.2,720.3 2211.5,724.7 2213.3,728.0C2215.1,731.3 2217.4,736.0 2218.8,739.0C2220.2,742.0 2220.7,741.4 2222.0,746.0C2223.3,750.6 2224.6,760.5 2226.4,766.9C2228.2,773.3 2230.4,778.3 2233.0,784.5C2235.6,790.7 2238.9,797.3 2241.8,804.3C2244.7,811.3 2247.3,819.0 2250.6,826.3C2253.9,833.6 2257.9,841.0 2261.6,848.3C2265.3,855.6 2268.9,865.9 2272.6,870.3C2276.3,874.7 2280.3,872.1 2283.6,874.7C2286.9,877.3 2288.0,883.5 2292.4,885.7C2296.8,887.9 2303.4,886.8 2310.0,887.9C2316.6,889.0 2324.7,891.9 2332.0,892.3C2339.3,892.7 2347.6,890.1 2353.9,890.1C2360.2,890.1 2367.3,891.9 2370.0,892.3"/>
<path stroke="#0066FF" d="M214.0,849.0C214.8,852.5 216.8,866.8 218.5,870.0C220.2,873.2 221.8,868.9 224.0,868.0C226.2,867.1 229.4,866.7 231.7,864.5C234.0,862.3 235.4,859.3 237.9,854.6C240.4,849.9 243.7,843.3 246.5,836.1C249.3,828.9 251.9,821.6 254.6,811.3C257.3,801.0 260.2,786.6 262.6,774.2C265.0,761.8 267.3,746.4 268.8,737.1C270.3,727.8 270.6,722.5 271.4,718.6C272.2,714.8 271.8,713.3 273.5,714.0C275.2,714.7 279.3,720.0 281.9,723.0C284.5,726.0 286.9,728.6 289.2,732.3C291.5,736.0 293.6,740.6 295.8,745.0C298.0,749.4 300.1,753.6 302.3,758.4C304.5,763.2 306.6,768.8 308.8,774.0C311.0,779.2 313.1,784.7 315.3,789.7C317.5,794.7 319.7,799.2 321.9,804.0C324.1,808.8 326.2,814.0 328.4,818.5C330.6,823.0 332.8,827.1 335.0,831.0C337.2,834.9 339.3,838.3 341.5,842.0C343.7,845.7 345.8,849.5 348.0,853.0C350.2,856.5 352.3,859.6 354.5,862.9C356.7,866.2 358.8,870.0 361.0,873.0C363.2,876.0 365.4,878.9 367.6,881.2C369.8,883.5 371.8,885.2 374.0,887.0C376.2,888.8 378.5,890.1 380.6,891.7C382.7,893.3 383.3,895.5 386.5,896.8C389.7,898.1 395.3,898.5 400.0,899.7C404.7,900.9 409.7,901.9 414.5,904.1C419.3,906.3 424.2,908.0 429.0,912.8C433.8,917.6 439.9,927.8 443.5,933.1C447.1,938.4 448.3,941.8 450.7,944.7C453.1,947.6 455.3,948.1 458.0,950.5C460.7,952.9 463.8,956.3 466.7,959.2C469.6,962.1 472.0,965.0 475.4,967.9C478.8,970.8 482.6,973.5 487.0,976.6C491.4,979.7 496.7,984.8 501.5,986.7C506.3,988.6 511.2,989.4 516.0,988.2C520.8,987.0 525.7,981.7 530.5,979.5C535.3,977.3 540.2,975.8 545.0,975.1C549.8,974.4 554.7,974.9 559.5,975.1C564.3,975.4 569.6,976.1 574.0,976.6C578.4,977.1 582.5,978.7 585.6,978.0C588.7,977.3 590.4,974.4 592.8,972.2C595.2,970.0 597.9,968.1 600.1,965.0C602.3,961.9 604.0,958.2 605.9,953.4C607.8,948.6 609.8,942.5 611.7,936.0C613.6,929.5 615.6,921.9 617.5,914.2C619.4,906.5 621.6,898.1 623.3,889.6C625.0,881.1 626.1,871.5 627.6,863.5C629.1,855.5 630.8,849.0 632.0,841.7C633.2,834.5 633.9,831.3 634.9,820.0C635.9,808.7 636.5,786.5 637.7,774.0C638.9,761.5 640.5,754.7 642.0,745.0C643.5,735.3 644.9,724.5 646.4,716.0C647.9,707.5 649.2,701.0 650.7,694.2C652.2,687.4 653.7,680.5 655.1,675.4C656.5,670.3 658.2,668.1 659.4,663.8C660.6,659.4 661.2,652.7 662.3,649.3C663.4,645.9 664.5,643.3 666.0,643.5C667.5,643.7 669.9,646.4 671.0,650.7C672.1,655.1 671.5,665.2 672.5,669.6C673.5,674.0 675.6,677.5 676.8,676.8C678.0,676.1 678.7,664.7 679.7,665.2C680.7,665.7 681.9,673.7 682.6,679.7C683.3,685.8 683.6,694.7 684.1,701.5C684.6,708.3 684.5,716.4 685.5,720.3C686.5,724.2 688.7,725.4 689.9,724.7C691.1,724.0 691.8,713.8 692.8,716.0C693.8,718.2 695.0,730.5 695.7,737.7C696.4,745.0 696.6,752.2 697.1,759.5C697.6,766.8 697.9,780.0 698.6,781.2C699.3,782.4 700.5,769.1 701.5,766.7C702.5,764.3 703.4,763.1 704.4,766.7C705.4,770.3 706.6,781.1 707.3,788.5C708.0,795.9 708.2,804.1 708.7,811.0C709.2,817.9 708.8,829.1 710.0,829.9C711.2,830.7 714.2,813.6 715.9,815.9C717.5,818.2 718.4,834.8 719.9,843.8C721.4,852.8 723.3,860.7 725.0,870.0C726.7,879.3 728.8,892.0 729.9,899.6C731.0,907.2 730.2,913.6 731.9,915.6C733.5,917.6 738.1,907.6 739.8,911.6C741.4,915.6 741.1,930.2 741.8,939.5C742.5,948.8 742.1,963.4 743.8,967.4C745.5,971.4 750.1,959.8 751.8,963.4C753.5,967.0 753.1,980.0 753.8,989.3C754.5,998.6 754.1,1015.9 755.8,1019.2C757.5,1022.5 762.1,1005.9 763.8,1009.2C765.5,1012.5 765.1,1030.1 765.8,1039.1C766.4,1048.1 766.4,1064.7 767.7,1063.0C769.0,1061.3 771.7,1028.1 773.7,1029.1C775.7,1030.1 778.0,1067.3 779.7,1069.0C781.4,1070.7 782.4,1047.1 783.7,1039.1C785.0,1031.1 786.1,1022.9 787.7,1021.2C789.4,1019.5 792.3,1032.8 793.6,1029.1C794.9,1025.4 794.6,1007.5 795.6,999.2C796.6,990.9 797.9,987.6 799.6,979.3C801.3,971.0 803.6,959.4 805.6,949.4C807.6,939.4 809.6,929.5 811.6,919.5C813.6,909.5 815.6,899.7 817.6,889.7C819.6,879.8 821.5,869.8 823.5,859.8C825.5,849.8 827.6,838.0 829.5,829.9C831.4,821.8 832.5,816.7 834.9,811.0C837.3,805.3 841.2,800.5 843.7,795.9C846.2,791.3 847.7,786.3 850.1,783.5C852.6,780.7 856.2,780.5 858.4,779.3C860.7,778.1 861.5,775.3 863.6,776.2C865.7,777.1 868.6,783.5 870.8,784.5C873.0,785.5 875.5,782.1 877.0,782.5C878.5,782.9 877.6,785.0 880.0,787.0C882.4,789.0 886.8,792.3 891.6,794.2C896.4,796.1 903.7,798.4 909.0,798.6C914.3,798.9 918.7,796.7 923.5,795.7C928.3,794.7 933.6,792.3 938.0,792.8C942.4,793.3 945.7,796.2 949.6,798.6C953.5,801.0 957.3,803.9 961.2,807.3C965.1,810.7 969.4,815.5 972.8,818.9C976.2,822.3 978.6,824.2 981.5,827.6C984.4,831.0 987.1,835.6 990.2,839.2C993.3,842.8 997.4,845.7 1000.3,849.3C1003.2,852.9 1004.7,857.5 1007.6,860.9C1010.5,864.3 1015.6,867.6 1017.7,869.6C1019.8,871.6 1018.5,872.2 1020.0,873.0C1021.5,873.8 1024.9,872.9 1026.9,874.4C1028.9,875.9 1030.3,879.5 1032.0,882.0C1033.7,884.5 1034.6,888.1 1037.2,889.5C1039.8,890.9 1044.3,889.8 1047.5,890.2C1050.7,890.7 1054.1,890.7 1056.4,892.2C1058.7,893.7 1058.9,898.1 1061.2,899.1C1063.5,900.1 1066.5,898.5 1070.0,898.0C1073.5,897.5 1077.6,895.8 1081.9,896.4C1086.2,897.0 1092.0,900.0 1095.6,901.9C1099.2,903.8 1099.8,905.3 1103.5,908.0C1107.2,910.7 1113.7,913.3 1118.0,918.1C1122.3,922.9 1126.2,931.9 1129.6,937.0C1133.0,942.1 1134.9,944.2 1138.3,948.6C1141.7,953.0 1145.6,958.8 1149.9,963.1C1154.2,967.5 1158.9,971.3 1164.4,974.7C1170.0,978.1 1177.7,982.4 1183.2,983.4C1188.8,984.4 1192.9,982.2 1197.7,980.5C1202.5,978.8 1207.4,974.9 1212.2,973.2C1217.0,971.5 1220.7,970.3 1226.7,970.3C1232.8,970.3 1242.0,973.0 1248.5,973.2C1255.0,973.5 1261.6,973.5 1265.9,971.8C1270.2,970.1 1271.9,966.5 1274.6,963.1C1277.2,959.7 1279.6,955.9 1281.8,951.5C1284.0,947.1 1285.6,945.5 1287.6,937.0C1289.6,928.5 1291.4,916.3 1294.0,900.5C1296.6,884.7 1300.3,861.6 1303.4,842.1C1306.5,822.6 1309.8,801.9 1312.7,783.6C1315.6,765.3 1318.6,746.6 1320.9,732.2C1323.2,717.8 1325.0,706.8 1326.8,697.1C1328.5,687.4 1329.7,679.6 1331.4,673.8C1333.2,668.0 1335.3,666.6 1337.3,662.1C1339.3,657.6 1341.8,646.1 1343.6,646.9C1345.3,647.7 1346.7,661.9 1347.8,666.8C1348.9,671.7 1348.5,676.1 1350.1,676.1C1351.6,676.1 1355.3,664.5 1357.1,666.8C1358.8,669.1 1359.8,680.8 1360.6,690.1C1361.4,699.5 1360.2,718.6 1361.8,722.9C1363.4,727.2 1368.2,712.7 1370.0,715.8C1371.8,718.9 1371.5,730.2 1372.3,741.5C1373.1,752.8 1373.1,779.3 1374.7,783.6C1376.3,787.9 1380.0,763.4 1381.7,767.3C1383.5,771.2 1384.4,795.3 1385.2,807.0C1386.0,818.7 1385.0,835.8 1386.4,837.4C1387.8,839.0 1391.7,815.6 1393.4,816.4C1395.2,817.2 1395.9,833.5 1396.9,842.1C1397.9,850.7 1398.0,860.0 1399.2,867.8C1400.4,875.6 1402.1,886.8 1403.9,888.8C1405.8,890.8 1409.5,877.7 1410.3,880.0C1411.1,882.3 1408.7,895.9 1408.7,902.7C1408.7,909.5 1409.0,919.5 1410.3,920.8C1411.6,922.1 1414.8,908.3 1416.3,910.3C1417.8,912.3 1418.5,922.8 1419.3,932.9C1420.0,943.0 1419.3,967.0 1420.8,970.8C1422.3,974.6 1426.6,953.1 1428.4,955.6C1430.2,958.1 1430.7,974.5 1431.4,985.9C1432.2,997.2 1431.4,1021.2 1432.9,1023.7C1434.4,1026.2 1439.0,999.7 1440.5,1001.0C1442.0,1002.3 1441.5,1019.2 1442.0,1031.3C1442.5,1043.4 1442.5,1066.0 1443.5,1073.6C1444.5,1081.1 1446.8,1084.9 1448.1,1076.6C1449.4,1068.3 1449.8,1028.7 1451.1,1023.7C1452.3,1018.7 1454.6,1035.8 1455.6,1046.4C1456.6,1057.0 1456.1,1084.7 1457.1,1087.2C1458.1,1089.7 1460.7,1073.3 1461.7,1061.5C1462.7,1049.7 1462.0,1018.6 1463.2,1016.1C1464.5,1013.6 1467.7,1046.4 1469.2,1046.4C1470.7,1046.4 1471.5,1023.7 1472.3,1016.1C1473.1,1008.5 1472.8,1006.0 1473.8,1001.0C1474.8,996.0 1476.8,993.5 1478.3,985.9C1479.8,978.3 1481.1,965.7 1482.9,955.6C1484.7,945.5 1487.6,931.2 1488.9,925.4C1490.2,919.6 1489.9,926.1 1491.0,921.0C1492.1,915.9 1494.2,902.4 1495.7,894.5C1497.2,886.6 1498.5,880.7 1499.9,873.8C1501.3,866.9 1502.6,859.9 1504.0,853.0C1505.4,846.1 1506.4,839.2 1508.2,832.3C1510.0,825.4 1512.9,817.6 1515.0,811.5C1517.1,805.4 1518.9,800.6 1521.0,795.9C1523.1,791.2 1525.0,786.3 1527.4,783.5C1529.9,780.7 1533.5,780.5 1535.7,779.3C1538.0,778.1 1538.8,775.3 1540.9,776.2C1543.0,777.1 1545.9,783.5 1548.1,784.5C1550.3,785.5 1552.8,782.1 1554.3,782.5C1555.8,782.9 1554.9,785.0 1557.3,787.0C1559.7,789.0 1564.1,792.3 1568.9,794.2C1573.7,796.1 1581.0,798.4 1586.3,798.6C1591.6,798.9 1596.0,796.7 1600.8,795.7C1605.6,794.7 1610.9,792.3 1615.3,792.8C1619.7,793.3 1623.0,796.2 1626.9,798.6C1630.8,801.0 1634.6,803.9 1638.5,807.3C1642.4,810.7 1646.7,815.5 1650.1,818.9C1653.5,822.3 1655.9,824.2 1658.8,827.6C1661.7,831.0 1664.4,835.6 1667.5,839.2C1670.6,842.8 1674.7,845.7 1677.6,849.3C1680.5,852.9 1682.0,857.5 1684.9,860.9C1687.8,864.3 1692.9,867.6 1695.0,869.6C1697.1,871.6 1695.8,872.2 1697.3,873.0C1698.8,873.8 1702.2,872.9 1704.2,874.4C1706.2,875.9 1707.6,879.5 1709.3,882.0C1711.0,884.5 1711.9,888.1 1714.5,889.5C1717.1,890.9 1721.6,889.8 1724.8,890.2C1728.0,890.7 1731.4,890.7 1733.7,892.2C1736.0,893.7 1736.2,898.1 1738.5,899.1C1740.8,900.1 1743.8,898.5 1747.3,898.0C1750.8,897.5 1754.9,895.8 1759.2,896.4C1763.5,897.0 1769.3,900.0 1772.9,901.9C1776.5,903.8 1777.1,905.3 1780.8,908.0C1784.5,910.7 1791.0,913.3 1795.3,918.1C1799.6,922.9 1803.5,931.9 1806.9,937.0C1810.3,942.1 1812.2,944.2 1815.6,948.6C1819.0,953.0 1822.8,958.8 1827.2,963.1C1831.6,967.5 1836.2,971.3 1841.7,974.7C1847.2,978.1 1855.0,982.4 1860.5,983.4C1866.0,984.4 1870.2,982.2 1875.0,980.5C1879.8,978.8 1884.7,974.9 1889.5,973.2C1894.3,971.5 1898.0,970.3 1904.0,970.3C1910.0,970.3 1919.3,973.0 1925.8,973.2C1932.3,973.5 1938.9,973.5 1943.2,971.8C1947.5,970.1 1949.2,966.5 1951.9,963.1C1954.5,959.7 1956.9,955.9 1959.1,951.5C1961.3,947.1 1962.9,945.5 1964.9,937.0C1966.9,928.5 1968.7,916.3 1971.3,900.5C1973.9,884.7 1977.6,861.6 1980.7,842.1C1983.8,822.6 1987.1,801.9 1990.0,783.6C1992.9,765.3 1995.9,746.6 1998.2,732.2C2000.5,717.8 2002.3,706.8 2004.1,697.1C2005.8,687.4 2007.0,679.6 2008.7,673.8C2010.5,668.0 2012.6,666.6 2014.6,662.1C2016.6,657.6 2019.1,646.1 2020.9,646.9C2022.6,647.7 2024.0,661.9 2025.1,666.8C2026.2,671.7 2025.8,676.1 2027.4,676.1C2028.9,676.1 2032.6,664.5 2034.4,666.8C2036.1,669.1 2037.1,680.8 2037.9,690.1C2038.7,699.5 2037.5,718.6 2039.1,722.9C2040.7,727.2 2045.5,712.7 2047.3,715.8C2049.1,718.9 2048.8,730.2 2049.6,741.5C2050.4,752.8 2050.4,779.3 2052.0,783.6C2053.6,787.9 2057.2,763.4 2059.0,767.3C2060.8,771.2 2061.7,795.3 2062.5,807.0C2063.3,818.7 2062.9,831.9 2063.7,837.4C2064.5,842.9 2065.8,834.4 2067.4,840.0C2069.1,845.6 2071.8,864.2 2073.6,870.9C2075.4,877.6 2076.4,876.8 2078.0,880.0C2079.6,883.2 2081.8,883.0 2083.0,890.0C2084.2,897.0 2084.2,915.7 2085.0,922.0C2085.8,928.3 2087.0,930.8 2088.0,928.0C2089.0,925.2 2089.7,909.2 2091.0,905.0C2092.3,900.8 2094.7,898.8 2096.0,903.0C2097.3,907.2 2098.3,918.0 2099.0,930.0C2099.7,942.0 2099.2,966.3 2100.0,975.0C2100.8,983.7 2103.0,986.2 2104.0,982.0C2105.0,977.8 2105.2,955.7 2106.0,950.0C2106.8,944.3 2108.2,943.3 2109.0,948.0C2109.8,952.7 2110.2,971.0 2111.0,978.0C2111.8,985.0 2113.3,980.3 2114.0,990.0C2114.7,999.7 2114.6,1036.0 2115.0,1036.0C2115.4,1036.0 2116.1,980.0 2116.6,990.0C2117.1,1000.0 2117.7,1096.0 2118.2,1096.0C2118.7,1096.0 2119.3,990.0 2119.8,990.0C2120.3,990.0 2120.9,1093.0 2121.4,1096.0C2121.9,1099.0 2122.5,1008.0 2123.0,1008.0C2123.5,1008.0 2124.1,1096.0 2124.6,1096.0C2125.1,1096.0 2125.7,1008.0 2126.2,1008.0C2126.7,1008.0 2127.3,1096.0 2127.8,1096.0C2128.3,1096.0 2128.9,1005.0 2129.4,1008.0C2129.9,1011.0 2130.5,1114.0 2131.0,1114.0C2131.5,1114.0 2132.1,1008.0 2132.6,1008.0C2133.1,1008.0 2133.7,1115.2 2134.2,1114.0C2134.7,1112.8 2135.3,1001.0 2135.8,1001.0C2136.3,1001.0 2136.9,1114.0 2137.4,1114.0C2137.9,1114.0 2138.5,1007.5 2139.0,1001.0C2139.5,994.5 2140.1,1075.0 2140.6,1075.0C2141.1,1075.0 2141.7,1001.0 2142.2,1001.0C2142.7,1001.0 2143.3,1076.5 2143.8,1075.0C2144.3,1073.5 2144.9,992.0 2145.4,992.0C2145.9,992.0 2146.5,1075.0 2147.0,1075.0C2147.5,1075.0 2148.1,992.0 2148.6,992.0C2149.1,992.0 2149.7,1075.0 2150.2,1075.0C2150.7,1075.0 2151.0,1006.2 2151.8,992.0C2152.6,977.8 2154.0,995.0 2155.0,990.0C2156.0,985.0 2157.0,969.5 2158.0,962.0C2159.0,954.5 2159.9,949.5 2161.0,945.0C2162.1,940.5 2162.9,941.2 2164.3,935.0C2165.7,928.8 2167.6,916.8 2169.3,908.0C2171.0,899.2 2172.8,889.7 2174.6,882.0C2176.4,874.3 2178.3,867.3 2180.0,862.0C2181.7,856.7 2183.0,857.3 2185.0,850.3C2187.0,843.3 2189.7,828.4 2192.0,820.0C2194.3,811.6 2196.7,805.6 2199.0,800.0C2201.3,794.4 2202.8,790.0 2205.6,786.3C2208.3,782.5 2212.9,778.9 2215.5,777.5C2218.1,776.1 2219.2,777.1 2221.4,777.9C2223.6,778.7 2225.6,780.5 2228.6,782.3C2231.6,784.1 2235.2,787.1 2239.6,788.9C2244.0,790.7 2249.9,792.9 2255.0,793.3C2260.1,793.7 2264.9,791.8 2270.4,791.1C2275.9,790.4 2284.0,789.6 2288.0,788.9C2292.0,788.2 2290.9,785.2 2294.6,786.7C2298.3,788.2 2305.2,793.7 2310.0,797.7C2314.8,801.7 2318.8,806.5 2323.2,810.9C2327.6,815.3 2332.0,819.0 2336.4,824.1C2340.8,829.2 2345.8,836.9 2349.5,841.7C2353.2,846.5 2354.9,849.4 2358.3,852.7C2361.7,856.0 2368.1,860.0 2370.0,861.5"/>
<path stroke="#FF7F33" d="M214.0,844.0C214.8,848.0 216.7,865.0 218.5,868.0C220.3,871.0 222.1,865.7 225.0,862.0C227.9,858.3 232.9,850.3 236.0,846.0C239.1,841.7 241.2,841.9 243.6,836.1C246.0,830.3 248.2,821.6 250.3,811.3C252.4,801.0 254.4,786.6 256.4,774.2C258.3,761.8 260.1,749.5 262.0,737.1C263.9,724.7 266.1,708.3 267.6,700.0C269.1,691.7 269.5,689.2 270.9,687.5C272.3,685.8 274.5,687.4 276.0,690.0C277.5,692.6 278.0,691.6 279.7,702.9C281.4,714.2 284.2,740.8 286.3,757.8C288.4,774.8 290.4,789.1 292.0,805.0C293.6,820.9 294.1,840.2 295.8,853.4C297.5,866.6 299.9,874.1 302.0,884.4C304.1,894.7 305.7,905.7 308.1,915.3C310.5,924.9 314.0,936.9 316.4,942.1C318.8,947.3 319.9,946.6 322.6,946.3C325.4,946.0 329.8,943.5 332.9,940.1C336.0,936.7 338.0,930.1 341.1,925.6C344.2,921.1 347.4,917.4 351.5,913.3C355.6,909.2 361.1,904.7 365.9,900.9C370.7,897.1 376.2,892.0 380.3,890.6C384.4,889.2 387.3,892.1 390.6,892.6C393.9,893.1 396.0,893.7 400.0,893.9C404.0,894.1 409.7,893.6 414.5,893.9C419.3,894.1 424.2,894.7 429.0,895.4C433.8,896.1 439.1,896.6 443.5,898.3C447.9,900.0 451.5,903.3 455.1,905.5C458.7,907.7 461.1,911.0 465.2,911.3C469.3,911.5 474.9,909.2 479.7,907.0C484.5,904.8 489.4,899.8 494.2,898.3C499.0,896.8 505.1,899.0 508.7,898.3C512.3,897.6 513.1,894.1 516.0,893.9C518.9,893.6 523.7,895.1 526.1,896.8C528.5,898.5 528.3,903.4 530.5,904.1C532.7,904.8 536.8,900.7 539.2,901.2C541.6,901.7 543.1,904.1 545.0,907.0C546.9,909.9 548.9,914.2 550.8,918.6C552.7,923.0 554.7,928.5 556.6,933.1C558.5,937.7 560.5,941.5 562.4,946.1C564.3,950.7 566.5,955.8 568.2,960.6C569.9,965.4 571.5,971.9 572.5,975.1C573.5,978.3 573.1,975.9 574.5,980.0C575.9,984.1 578.8,993.5 581.0,999.6C583.2,1005.7 585.5,1011.6 587.5,1016.6C589.5,1021.6 590.6,1027.0 592.8,1029.6C595.0,1032.2 598.2,1029.8 600.6,1032.2C603.0,1034.6 604.7,1043.1 607.1,1044.0C609.5,1044.9 612.6,1040.5 615.0,1037.4C617.4,1034.4 619.3,1030.3 621.5,1025.7C623.7,1021.1 625.8,1015.0 628.0,1010.0C630.2,1005.0 632.5,1000.7 634.5,995.7C636.5,990.7 638.8,983.9 639.8,980.0C640.8,976.1 639.6,976.6 640.7,972.2C641.8,967.8 644.6,959.7 646.5,953.4C648.4,947.1 650.4,940.5 652.3,934.5C654.2,928.5 655.9,921.9 658.1,917.1C660.3,912.3 662.9,909.6 665.3,905.5C667.7,901.4 669.7,895.9 672.6,892.5C675.5,889.1 679.1,887.4 682.7,885.2C686.3,883.0 691.0,881.1 694.3,879.4C697.6,877.7 698.1,876.4 702.4,874.8C706.7,873.2 713.8,871.6 720.0,870.0C726.2,868.4 734.9,866.2 739.5,865.0C744.1,863.8 745.0,863.9 747.7,862.5C750.5,861.1 753.2,858.8 756.0,856.7C758.8,854.6 761.5,852.9 764.2,850.1C767.0,847.4 770.0,843.6 772.5,840.2C775.0,836.8 777.1,833.4 779.1,829.5C781.1,825.6 782.9,821.2 784.8,817.1C786.7,813.0 788.7,808.8 790.6,804.7C792.5,800.6 794.2,796.1 796.4,792.4C798.6,788.7 801.0,792.8 803.8,782.5C806.6,772.2 810.3,741.6 813.1,730.5C815.9,719.4 818.0,721.3 820.4,716.0C822.8,710.7 825.4,704.2 827.6,698.6C829.8,693.0 830.2,687.1 833.4,682.6C836.6,678.1 843.3,672.2 847.0,671.8C850.7,671.4 853.2,676.9 855.7,680.4C858.2,683.9 859.6,688.7 861.9,692.8C864.2,696.9 867.2,701.1 869.3,705.2C871.3,709.3 872.6,712.4 874.2,717.5C875.9,722.6 877.3,729.9 879.2,736.1C881.1,742.3 883.4,748.4 885.4,754.6C887.4,760.8 890.2,768.8 891.5,773.2C892.8,777.6 891.5,777.0 893.0,781.2C894.5,785.4 897.9,792.8 900.3,798.6C902.7,804.4 905.3,811.4 907.5,816.0C909.7,820.6 910.6,823.2 913.3,826.1C916.0,829.0 919.9,830.2 923.5,833.4C927.1,836.5 931.5,842.8 935.1,845.0C938.7,847.2 941.6,844.9 945.2,846.4C948.8,847.9 952.4,851.3 956.8,853.7C961.1,856.1 966.7,858.2 971.3,860.9C975.9,863.5 979.8,866.7 984.4,869.6C989.0,872.5 994.5,876.1 998.9,878.3C1003.2,880.5 1007.0,881.8 1010.5,882.7C1014.0,883.7 1016.1,884.2 1020.0,884.0C1023.9,883.8 1029.7,882.5 1033.7,881.2C1037.7,879.9 1040.5,876.5 1044.0,876.4C1047.5,876.3 1050.9,879.7 1054.4,880.5C1057.9,881.3 1061.6,880.9 1065.0,881.0C1068.4,881.1 1071.0,881.4 1075.0,881.2C1079.0,881.0 1084.1,880.2 1088.7,879.9C1093.3,879.6 1098.8,879.6 1102.5,879.2C1106.2,878.8 1105.7,877.5 1110.7,877.5C1115.7,877.5 1125.2,878.3 1132.5,879.0C1139.8,879.7 1147.0,880.7 1154.2,881.9C1161.5,883.1 1170.0,884.3 1176.0,886.2C1182.0,888.1 1186.2,892.3 1190.5,893.5C1194.8,894.7 1198.5,891.8 1202.1,893.5C1205.7,895.2 1209.3,900.7 1212.2,903.6C1215.1,906.5 1217.1,907.8 1219.5,910.9C1221.9,914.0 1224.3,918.1 1226.7,922.5C1229.1,926.9 1231.6,932.2 1234.0,937.0C1236.4,941.8 1238.8,946.2 1241.2,951.5C1243.6,956.8 1246.3,962.9 1248.5,968.9C1250.7,974.9 1252.8,982.5 1254.3,987.7C1255.8,992.9 1255.8,996.0 1257.5,1000.0C1259.2,1004.0 1262.2,1008.3 1264.6,1011.8C1266.9,1015.3 1268.5,1018.5 1271.6,1021.2C1274.7,1023.9 1279.9,1027.8 1283.4,1028.2C1286.9,1028.6 1290.1,1025.8 1292.8,1023.5C1295.5,1021.1 1297.6,1018.0 1299.8,1014.1C1302.0,1010.2 1304.6,1003.2 1305.7,1000.0C1306.8,996.8 1305.2,999.0 1306.5,995.0C1307.8,991.0 1311.3,982.1 1313.7,976.1C1316.1,970.1 1318.6,964.7 1321.0,958.7C1323.4,952.7 1325.8,945.9 1328.2,939.9C1330.6,933.9 1333.1,927.8 1335.5,922.5C1337.9,917.2 1340.3,912.1 1342.7,908.0C1345.1,903.9 1348.1,901.4 1350.0,897.8C1351.9,894.2 1351.9,888.9 1354.3,886.2C1356.7,883.6 1360.4,883.6 1364.5,881.9C1368.6,880.2 1376.4,876.8 1379.0,876.1C1381.6,875.4 1378.1,878.1 1380.0,877.9C1381.9,877.7 1385.2,876.7 1390.4,874.8C1395.6,872.9 1405.9,868.4 1411.1,866.5C1416.3,864.6 1418.4,864.8 1421.5,863.4C1424.6,862.0 1427.0,860.1 1429.8,858.2C1432.6,856.3 1435.3,854.2 1438.1,852.0C1440.9,849.8 1443.6,847.3 1446.4,844.7C1449.2,842.1 1452.3,839.5 1454.7,836.4C1457.1,833.3 1459.2,829.5 1460.9,826.0C1462.6,822.5 1463.5,819.0 1465.1,815.7C1466.7,812.4 1468.4,809.6 1470.3,806.3C1472.2,803.0 1475.4,798.4 1476.5,795.9C1477.6,793.4 1476.4,793.1 1477.0,791.0C1477.6,788.9 1477.7,788.8 1480.0,783.0C1482.3,777.2 1487.1,765.1 1490.7,756.2C1494.3,747.3 1498.1,737.5 1501.4,729.4C1504.7,721.3 1508.0,714.1 1510.4,707.9C1512.8,701.7 1514.2,696.1 1516.0,692.0C1517.8,687.9 1519.3,684.0 1521.1,683.0C1522.9,682.0 1524.9,684.8 1527.0,686.0C1529.1,687.2 1531.0,687.2 1533.6,690.0C1536.2,692.8 1539.6,697.5 1542.6,702.6C1545.6,707.7 1549.1,714.5 1551.5,720.4C1553.9,726.3 1555.1,732.3 1556.9,738.3C1558.7,744.3 1560.1,750.2 1562.2,756.2C1564.3,762.2 1567.0,767.1 1569.4,774.0C1571.8,780.9 1574.1,790.4 1576.5,797.3C1578.9,804.2 1580.7,809.6 1583.7,815.2C1586.7,820.9 1590.2,826.2 1594.4,831.2C1598.6,836.2 1603.9,841.6 1608.7,845.5C1613.5,849.4 1617.6,851.8 1623.0,854.5C1628.4,857.2 1635.0,858.9 1640.9,861.6C1646.9,864.3 1652.8,868.2 1658.7,870.6C1664.7,873.0 1671.8,873.9 1676.6,875.9C1681.4,877.9 1684.3,881.4 1687.8,882.7C1691.2,884.1 1693.4,884.2 1697.3,884.0C1701.2,883.8 1707.0,882.5 1711.0,881.2C1715.0,879.9 1717.8,876.5 1721.3,876.4C1724.8,876.3 1728.2,879.7 1731.7,880.5C1735.2,881.3 1738.9,880.9 1742.3,881.0C1745.7,881.1 1748.3,881.4 1752.3,881.2C1756.2,881.0 1761.4,880.2 1766.0,879.9C1770.6,879.6 1776.1,879.6 1779.8,879.2C1783.5,878.8 1783.0,877.5 1788.0,877.5C1793.0,877.5 1802.5,878.3 1809.8,879.0C1817.0,879.7 1824.2,880.7 1831.5,881.9C1838.8,883.1 1847.2,884.3 1853.3,886.2C1859.3,888.1 1863.5,892.3 1867.8,893.5C1872.1,894.7 1875.8,891.8 1879.4,893.5C1883.0,895.2 1886.6,900.7 1889.5,903.6C1892.4,906.5 1894.4,907.8 1896.8,910.9C1899.2,914.0 1901.6,918.1 1904.0,922.5C1906.4,926.9 1908.9,932.2 1911.3,937.0C1913.7,941.8 1916.1,946.2 1918.5,951.5C1920.9,956.8 1923.6,962.9 1925.8,968.9C1928.0,974.9 1930.1,982.5 1931.6,987.7C1933.1,992.9 1933.1,996.0 1934.8,1000.0C1936.5,1004.0 1939.5,1008.3 1941.9,1011.8C1944.2,1015.3 1945.8,1018.5 1948.9,1021.2C1952.0,1023.9 1957.2,1027.8 1960.7,1028.2C1964.2,1028.6 1967.4,1025.8 1970.1,1023.5C1972.8,1021.1 1974.9,1018.0 1977.1,1014.1C1979.2,1010.2 1981.9,1003.2 1983.0,1000.0C1984.1,996.8 1982.5,999.0 1983.8,995.0C1985.1,991.0 1988.6,982.1 1991.0,976.1C1993.4,970.1 1995.9,964.7 1998.3,958.7C2000.7,952.7 2003.1,945.9 2005.5,939.9C2007.9,933.9 2010.4,928.1 2012.8,922.5C2015.2,916.9 2017.1,910.8 2020.0,906.0C2022.9,901.2 2026.2,897.0 2030.3,893.6C2034.4,890.2 2039.6,887.8 2044.7,885.4C2049.8,883.0 2056.4,880.9 2061.2,879.2C2066.0,877.5 2070.0,877.2 2073.6,875.0C2077.2,872.8 2080.2,868.7 2083.0,866.0C2085.8,863.3 2087.6,860.2 2090.6,859.0C2093.6,857.8 2097.5,860.1 2100.9,859.0C2104.3,857.9 2107.8,854.5 2111.2,852.2C2114.6,849.9 2118.1,848.2 2121.5,845.3C2124.9,842.4 2129.0,838.4 2131.9,835.0C2134.8,831.6 2136.6,828.1 2138.7,824.7C2140.8,821.3 2142.5,817.8 2144.2,814.4C2145.9,811.0 2147.2,807.3 2149.0,804.1C2150.8,800.9 2152.9,800.4 2155.0,795.0C2157.1,789.6 2159.0,779.5 2161.6,772.0C2164.2,764.5 2167.5,757.3 2170.4,750.0C2173.3,742.7 2176.6,734.4 2179.2,728.0C2181.8,721.6 2183.4,717.0 2185.8,711.5C2188.2,706.0 2190.8,699.1 2193.5,695.0C2196.2,690.9 2199.6,688.1 2202.3,687.0C2205.1,685.9 2207.6,686.1 2210.0,688.4C2212.4,690.6 2214.6,695.9 2216.6,700.5C2218.6,705.1 2220.4,712.4 2222.0,716.0C2223.6,719.6 2224.6,718.3 2226.4,722.0C2228.2,725.7 2230.8,731.9 2233.0,738.3C2235.2,744.7 2237.0,753.0 2239.6,760.3C2242.2,767.6 2245.8,775.7 2248.4,782.3C2251.0,788.9 2252.4,794.0 2255.0,799.9C2257.6,805.8 2260.9,812.0 2263.8,817.5C2266.7,823.0 2269.3,828.5 2272.6,832.9C2275.9,837.3 2279.9,840.6 2283.6,843.9C2287.3,847.2 2290.9,850.9 2294.6,852.7C2298.3,854.5 2301.9,853.1 2305.6,854.9C2309.3,856.7 2312.2,861.5 2316.6,863.7C2321.0,865.9 2326.5,866.6 2332.0,868.1C2337.5,869.6 2343.2,871.0 2349.5,872.5C2355.8,874.0 2366.6,876.2 2370.0,876.9"/>
<path stroke="#D4B000" stroke-width="11" stroke-linecap="round" d="M296.4,648.0C297.6,655.3 300.6,677.3 303.4,692.0C306.1,706.7 310.0,724.2 312.9,736.0C315.8,747.8 318.1,754.0 321.0,763.0C323.9,772.0 326.6,780.6 330.3,790.3C334.0,800.0 338.3,810.9 343.2,821.2C348.1,831.5 354.9,843.6 359.7,852.2C364.5,860.8 368.9,867.6 372.1,872.8C375.3,877.9 377.7,881.4 378.8,883.1"/>
<path stroke="#D4B000" stroke-width="12" stroke-linecap="round" d="M303.4,692.0C305.0,699.3 310.0,724.2 312.9,736.0C315.8,747.8 318.1,754.0 321.0,763.0C323.9,772.0 326.6,780.6 330.3,790.3C334.0,800.0 338.3,810.9 343.2,821.2C348.1,831.5 354.9,843.6 359.7,852.2C364.5,860.8 370.0,869.4 372.1,872.8"/>
<path stroke="#D4B000" stroke-width="13" stroke-linecap="round" d="M312.9,736.0C314.2,740.5 318.1,754.0 321.0,763.0C323.9,772.0 326.6,780.6 330.3,790.3C334.0,800.0 338.3,810.9 343.2,821.2C348.1,831.5 354.9,843.6 359.7,852.2C364.5,860.8 370.0,869.4 372.1,872.8"/>
<path stroke="#D4B000" stroke-width="14" stroke-linecap="round" d="M312.9,736.0C314.2,740.5 318.1,754.0 321.0,763.0C323.9,772.0 326.6,780.6 330.3,790.3C334.0,800.0 338.3,810.9 343.2,821.2C348.1,831.5 356.9,847.0 359.7,852.2"/>
<path stroke="#D4B000" d="M214.0,850.0C214.8,853.5 216.8,868.3 218.5,871.0C220.2,873.7 222.2,868.5 224.0,866.0C225.8,863.5 227.0,861.0 229.0,856.0C231.0,851.0 233.8,843.5 236.0,836.0C238.2,828.5 240.2,821.3 242.0,811.0C243.8,800.7 245.4,786.3 247.0,774.0C248.6,761.7 250.0,749.3 251.5,737.0C253.0,724.7 254.4,713.0 256.0,700.0C257.6,687.0 259.4,673.1 261.0,658.9C262.6,644.7 264.0,626.4 265.5,614.9C267.0,603.4 268.4,596.3 270.0,590.0C271.6,583.7 273.3,579.9 275.0,577.0C276.7,574.1 278.5,571.2 280.0,572.5C281.5,573.8 282.6,579.8 284.0,585.0C285.4,590.2 286.6,593.5 288.7,604.0C290.8,614.5 293.9,633.3 296.4,648.0C298.8,662.7 300.6,677.3 303.4,692.0C306.1,706.7 310.0,724.2 312.9,736.0C315.8,747.8 318.1,754.0 321.0,763.0C323.9,772.0 326.6,780.6 330.3,790.3C334.0,800.0 338.3,810.9 343.2,821.2C348.1,831.5 354.9,843.6 359.7,852.2C364.5,860.8 368.9,867.6 372.1,872.8C375.3,877.9 375.8,879.4 378.8,883.1C381.8,886.8 386.1,891.6 390.0,895.0C393.9,898.4 397.8,900.5 402.5,903.7C407.2,906.9 412.9,911.2 418.0,914.0C423.1,916.8 429.7,918.8 433.4,920.2C437.1,921.6 436.4,921.0 440.0,922.3C443.6,923.5 452.0,926.4 455.0,927.7C458.0,929.0 455.1,928.3 458.0,930.2C460.9,932.1 467.7,935.5 472.5,938.9C477.3,942.3 482.2,947.1 487.0,950.5C491.8,953.9 496.7,955.8 501.5,959.2C506.3,962.6 513.2,967.3 516.0,970.8C518.8,974.3 515.7,976.5 518.3,980.0C520.9,983.5 527.5,988.5 531.4,991.8C535.3,995.1 538.5,996.4 541.8,999.6C545.1,1002.9 548.4,1007.4 551.0,1011.3C553.6,1015.2 555.1,1019.2 557.5,1023.1C559.9,1027.0 563.1,1031.1 565.3,1034.8C567.5,1038.5 568.9,1041.4 570.6,1045.3C572.4,1049.2 573.8,1054.4 575.8,1058.3C577.8,1062.2 579.9,1064.9 582.3,1068.8C584.7,1072.7 588.5,1078.3 590.2,1081.8C592.0,1085.3 591.5,1089.5 592.8,1090.0C594.1,1090.5 595.8,1087.0 598.0,1084.5C600.2,1082.0 603.3,1078.6 606.0,1075.0C608.7,1071.4 611.3,1067.2 614.0,1063.0C616.7,1058.8 618.8,1055.0 622.0,1050.0C625.2,1045.0 629.7,1038.0 633.0,1033.0C636.3,1028.0 638.9,1024.5 642.0,1020.0C645.1,1015.5 648.8,1012.8 651.5,1006.0C654.2,999.2 655.3,987.5 658.1,979.5C660.9,971.5 664.1,965.0 668.2,957.7C672.3,950.5 677.9,944.5 682.7,936.0C687.5,927.5 692.6,916.5 697.2,907.0C701.9,897.5 707.4,886.4 710.6,879.0C713.8,871.6 714.3,867.6 716.4,862.5C718.5,857.4 720.8,853.3 723.0,848.5C725.2,843.7 727.6,834.0 729.6,833.6C731.6,833.2 733.1,843.1 735.0,846.0C736.9,848.9 738.3,852.4 741.1,851.0C743.9,849.6 748.7,842.0 751.9,837.7C755.1,833.4 757.4,829.5 760.1,825.4C762.9,821.3 765.6,817.1 768.4,813.0C771.1,808.9 773.9,805.0 776.6,800.6C779.3,796.2 781.8,794.7 784.8,786.6C787.8,778.5 791.5,760.8 794.3,752.2C797.1,743.6 799.1,740.3 801.5,734.8C803.9,729.2 806.4,724.4 808.8,718.9C811.2,713.4 813.8,706.8 816.0,701.5C818.2,696.2 820.1,691.9 821.8,687.0C823.5,682.1 824.6,676.2 826.0,672.0C827.4,667.8 828.3,666.0 830.0,662.0C831.7,658.0 833.5,653.5 836.0,648.0C838.5,642.5 842.7,633.5 845.0,629.0C847.3,624.5 848.0,622.2 850.0,621.0C852.0,619.8 854.6,620.1 857.0,622.0C859.4,623.9 861.8,628.0 864.3,632.2C866.8,636.4 869.4,642.1 871.9,647.0C874.4,651.9 876.9,656.7 879.1,661.5C881.3,666.3 883.1,671.2 885.0,676.0C886.9,680.8 888.5,685.7 890.7,690.5C892.9,695.3 895.6,700.2 898.0,705.0C900.4,709.8 902.8,714.7 905.2,719.5C907.6,724.3 909.8,729.2 912.5,734.0C915.2,738.8 917.8,743.2 921.2,748.5C924.6,753.8 929.5,761.2 932.8,765.9C936.1,770.6 937.6,773.3 940.9,776.8C944.2,780.3 948.1,783.6 952.5,787.0C956.9,790.4 962.2,793.7 967.0,797.1C971.8,800.5 976.7,803.9 981.5,807.3C986.3,810.7 991.9,814.3 996.0,817.4C1000.1,820.5 1002.5,823.0 1006.1,826.1C1009.7,829.2 1015.4,833.2 1017.7,836.3C1020.0,839.4 1017.3,841.9 1020.0,844.8C1022.7,847.7 1029.1,850.5 1033.7,853.7C1038.3,856.9 1043.8,861.2 1047.5,864.1C1051.2,867.0 1053.8,868.0 1055.7,870.9C1057.7,873.8 1058.1,877.2 1059.2,881.2C1060.3,885.2 1061.1,890.6 1062.6,895.0C1064.1,899.4 1064.9,905.1 1068.1,907.4C1071.3,909.7 1077.3,907.3 1081.9,908.7C1086.5,910.1 1091.0,913.1 1095.6,915.6C1100.2,918.1 1105.2,921.7 1109.3,923.8C1113.4,925.9 1114.9,926.3 1120.0,928.0C1125.1,929.7 1132.8,930.7 1139.7,934.1C1146.6,937.5 1154.2,943.8 1161.5,948.6C1168.8,953.4 1176.9,958.8 1183.2,963.1C1189.5,967.5 1194.4,969.9 1199.2,974.7C1204.0,979.5 1208.8,987.9 1212.2,992.1C1215.7,996.3 1217.4,996.7 1219.9,1000.0C1222.4,1003.3 1224.7,1007.9 1227.0,1011.8C1229.3,1015.7 1231.7,1019.0 1234.0,1023.5C1236.3,1028.0 1238.8,1034.3 1241.1,1038.8C1243.4,1043.3 1245.8,1046.4 1248.1,1050.5C1250.4,1054.6 1252.8,1059.2 1255.2,1063.5C1257.6,1067.8 1259.9,1072.3 1262.2,1076.4C1264.5,1080.5 1267.0,1086.3 1269.3,1088.1C1271.6,1089.9 1272.8,1090.0 1276.3,1087.0C1279.8,1084.0 1285.4,1076.9 1290.4,1070.0C1295.4,1063.1 1302.4,1053.4 1306.5,1045.7C1310.6,1038.0 1312.3,1031.2 1315.2,1024.0C1318.1,1016.8 1321.0,1009.9 1323.9,1002.2C1326.8,994.5 1329.5,984.9 1332.6,977.6C1335.7,970.4 1338.6,966.7 1342.7,958.7C1346.8,950.7 1352.4,937.4 1357.2,929.7C1362.0,922.0 1367.9,917.3 1371.7,912.3C1375.5,907.3 1377.2,903.9 1380.0,899.7C1382.8,895.5 1385.7,891.6 1388.3,887.3C1390.9,883.0 1393.3,878.1 1395.6,873.8C1397.8,869.5 1399.7,866.0 1401.8,861.3C1403.9,856.6 1406.3,849.8 1408.0,845.8C1409.7,841.8 1410.5,837.6 1412.2,837.5C1413.9,837.4 1415.6,845.0 1418.0,845.0C1420.4,845.0 1424.0,840.3 1426.7,837.5C1429.4,834.7 1431.4,831.6 1434.0,828.1C1436.6,824.6 1439.5,822.9 1442.3,816.7C1445.1,810.5 1447.5,799.5 1450.9,791.0C1454.3,782.5 1459.1,773.5 1462.5,765.6C1465.9,757.7 1468.3,750.6 1471.2,743.8C1474.1,737.0 1477.0,731.0 1479.9,725.0C1482.8,719.0 1486.1,715.8 1488.6,707.6C1491.1,699.4 1492.1,685.3 1495.0,676.0C1497.9,666.7 1502.8,658.5 1506.0,652.0C1509.2,645.5 1511.3,641.0 1514.0,637.0C1516.7,633.0 1519.3,630.5 1522.0,628.0C1524.7,625.5 1527.3,622.8 1530.0,622.0C1532.7,621.2 1535.5,621.3 1538.0,623.0C1540.5,624.7 1542.7,628.8 1545.0,632.0C1547.3,635.2 1550.0,638.2 1552.0,642.0C1554.0,645.8 1555.3,650.8 1557.0,655.0C1558.7,659.2 1560.3,663.0 1562.0,667.0C1563.7,671.0 1565.2,674.8 1567.0,679.0C1568.8,683.2 1571.0,687.5 1573.0,692.0C1575.0,696.5 1577.2,701.3 1579.0,706.0C1580.8,710.7 1581.5,714.3 1584.0,720.0C1586.5,725.7 1590.0,733.1 1594.0,740.0C1598.0,746.9 1602.8,755.2 1608.0,761.5C1613.2,767.8 1619.3,772.5 1625.0,777.6C1630.7,782.7 1636.2,786.5 1642.0,791.9C1647.8,797.3 1653.7,804.8 1660.0,809.8C1666.3,814.8 1676.1,819.3 1680.0,822.0C1683.9,824.7 1680.9,823.7 1683.4,826.1C1685.9,828.5 1692.7,833.2 1695.0,836.3C1697.3,839.4 1694.6,841.9 1697.3,844.8C1700.0,847.7 1706.4,850.5 1711.0,853.7C1715.6,856.9 1721.1,861.2 1724.8,864.1C1728.5,867.0 1731.0,868.0 1733.0,870.9C1735.0,873.8 1735.3,877.2 1736.5,881.2C1737.7,885.2 1738.4,890.6 1739.9,895.0C1741.4,899.4 1742.2,905.1 1745.4,907.4C1748.6,909.7 1754.6,907.3 1759.2,908.7C1763.8,910.1 1768.3,913.1 1772.9,915.6C1777.5,918.1 1782.5,921.7 1786.6,923.8C1790.7,925.9 1792.2,926.3 1797.3,928.0C1802.4,929.7 1810.1,930.7 1817.0,934.1C1823.9,937.5 1831.5,943.8 1838.8,948.6C1846.0,953.4 1854.2,958.8 1860.5,963.1C1866.8,967.5 1871.7,969.9 1876.5,974.7C1881.3,979.5 1886.0,987.9 1889.5,992.1C1893.0,996.3 1894.7,996.7 1897.2,1000.0C1899.7,1003.3 1902.0,1007.9 1904.3,1011.8C1906.6,1015.7 1909.0,1019.0 1911.3,1023.5C1913.6,1028.0 1916.0,1034.3 1918.4,1038.8C1920.7,1043.3 1923.0,1046.4 1925.4,1050.5C1927.8,1054.6 1930.2,1059.2 1932.5,1063.5C1934.8,1067.8 1937.2,1072.3 1939.5,1076.4C1941.8,1080.5 1944.2,1086.3 1946.6,1088.1C1948.9,1089.9 1950.1,1090.0 1953.6,1087.0C1957.1,1084.0 1962.7,1076.9 1967.7,1070.0C1972.7,1063.1 1979.7,1053.4 1983.8,1045.7C1987.9,1038.0 1989.6,1031.2 1992.5,1024.0C1995.4,1016.8 1998.3,1009.9 2001.2,1002.2C2004.1,994.5 2006.8,984.7 2009.9,977.6C2013.0,970.5 2016.6,966.0 2020.0,959.6C2023.4,953.2 2026.9,945.2 2030.3,939.0C2033.7,932.8 2036.5,928.7 2040.6,922.5C2044.7,916.3 2050.6,908.8 2055.1,901.9C2059.6,895.0 2063.3,887.9 2067.4,881.2C2071.5,874.6 2076.4,866.9 2079.8,862.0C2083.2,857.1 2085.6,854.2 2088.0,852.0C2090.4,849.8 2091.6,850.4 2094.1,848.7C2096.6,847.0 2100.2,844.4 2103.0,841.9C2105.8,839.4 2108.7,836.8 2111.2,833.6C2113.7,830.4 2115.8,826.9 2118.1,822.6C2120.4,818.3 2122.8,812.8 2125.0,808.0C2127.2,803.2 2128.5,800.0 2131.0,794.0C2133.5,788.0 2136.9,779.3 2140.0,772.0C2143.1,764.7 2146.6,756.0 2149.5,750.0C2152.4,744.0 2154.6,741.2 2157.2,735.7C2159.8,730.2 2162.5,723.4 2164.9,717.0C2167.3,710.6 2169.1,703.6 2171.5,697.2C2173.9,690.8 2176.6,684.4 2179.2,678.5C2181.8,672.6 2184.4,667.4 2186.9,662.0C2189.4,656.6 2191.7,651.0 2194.0,646.0C2196.3,641.0 2198.7,636.0 2201.0,632.0C2203.3,628.0 2205.8,624.3 2208.0,622.0C2210.2,619.7 2212.0,617.0 2214.0,618.0C2216.0,619.0 2217.4,622.2 2219.8,628.0C2222.2,633.8 2225.7,644.8 2228.6,652.6C2231.5,660.4 2234.5,667.3 2237.4,674.6C2240.3,681.9 2243.3,689.3 2246.2,696.6C2249.1,703.9 2252.1,711.7 2255.0,718.6C2257.9,725.5 2260.5,732.1 2263.8,738.3C2267.1,744.5 2270.8,750.4 2274.8,755.9C2278.8,761.4 2283.2,766.9 2288.0,771.3C2292.8,775.7 2297.9,777.9 2303.4,782.3C2308.9,786.7 2315.1,792.9 2321.0,797.7C2326.9,802.5 2333.1,806.9 2338.6,810.9C2344.1,814.9 2348.8,817.9 2354.0,821.9C2359.2,825.9 2367.3,832.9 2370.0,835.1"/>
<path stroke="#2E8B38" stroke-width="15" stroke-linecap="round" d="M813.1,679.7C814.3,677.3 818.2,669.6 820.4,665.2C822.6,660.9 824.3,657.5 826.2,653.6C828.1,649.7 830.1,645.6 832.0,642.0C833.9,638.4 836.5,632.0 837.8,631.9C839.1,631.8 838.7,641.4 840.0,641.2C841.3,641.1 843.4,633.9 845.8,631.0C848.2,628.1 851.6,625.2 854.5,623.8C857.4,622.3 860.8,623.8 863.2,622.3C865.6,620.8 866.6,615.5 869.0,615.1C871.4,614.7 876.2,618.9 877.7,619.7"/>
<path stroke="#2E8B38" stroke-width="15" stroke-linecap="round" d="M1514.0,636.9C1515.3,635.1 1519.1,629.4 1521.6,626.3C1524.1,623.1 1527.2,619.9 1529.1,618.0C1531.0,616.1 1531.0,615.1 1532.9,615.0C1534.8,614.9 1538.2,617.3 1540.5,617.2C1542.8,617.1 1544.6,613.7 1546.5,614.2C1548.4,614.7 1549.6,618.6 1551.8,620.2C1554.0,621.8 1558.1,623.4 1559.4,624.0"/>
<path stroke="#2E8B38" stroke-width="15" stroke-linecap="round" d="M2189.1,645.5C2190.2,643.2 2193.8,636.1 2196.0,632.0C2198.2,627.9 2200.0,624.0 2202.0,621.0C2204.0,618.0 2205.8,615.5 2208.0,614.0C2210.2,612.5 2212.3,611.4 2215.4,612.0C2218.5,612.6 2224.6,616.5 2226.4,617.4"/>
<path stroke="#2E8B38" d="M214.0,847.0C214.8,850.8 216.9,866.7 218.5,870.0C220.1,873.3 222.0,869.6 223.7,867.0C225.4,864.4 226.5,859.8 228.6,854.6C230.7,849.5 233.7,843.3 236.0,836.1C238.3,828.9 240.3,821.6 242.2,811.3C244.1,801.0 245.6,786.6 247.2,774.2C248.8,761.8 250.4,749.5 251.7,737.1C253.0,724.7 253.8,713.0 255.2,700.0C256.6,687.0 258.5,673.1 260.0,658.9C261.5,644.7 262.8,629.1 264.3,614.9C265.8,600.6 267.5,585.5 269.0,573.4C270.5,561.3 271.7,551.1 273.1,542.5C274.5,533.9 275.8,528.1 277.2,521.9C278.6,515.7 279.9,510.2 281.3,505.4C282.7,500.6 283.7,496.1 285.4,493.0C287.1,489.9 289.2,486.4 291.6,486.8C294.0,487.2 297.5,490.6 299.9,495.1C302.3,499.6 304.0,506.4 306.1,513.6C308.2,520.8 310.2,529.5 312.3,538.4C314.4,547.3 316.3,557.0 318.4,567.3C320.4,577.6 322.5,589.0 324.6,600.3C326.7,611.6 328.7,624.3 330.8,635.3C332.9,646.3 334.9,655.3 337.0,666.3C339.1,677.3 341.4,689.8 343.2,701.3C345.0,712.8 346.5,724.4 348.0,735.0C349.5,745.6 350.8,756.7 352.0,765.0C353.2,773.3 353.8,779.1 355.0,785.0C356.2,790.9 357.6,794.6 359.2,800.6C360.8,806.6 362.4,814.3 364.3,821.2C366.2,828.1 368.3,835.9 370.5,841.9C372.7,847.9 375.1,852.1 377.7,857.3C380.3,862.4 383.8,867.6 386.0,872.8C388.2,877.9 389.6,883.1 391.1,888.2C392.7,893.4 393.6,898.5 395.3,903.7C397.0,908.9 399.3,914.8 401.4,919.2C403.4,923.6 405.3,925.5 407.6,930.0C409.9,934.5 412.4,940.8 415.4,946.3C418.4,951.8 422.3,957.6 425.7,962.8C429.1,967.9 433.6,973.7 436.0,977.2C438.4,980.7 438.0,981.2 440.0,983.9C442.0,986.5 444.5,989.4 447.8,993.1C451.1,996.8 455.5,1002.0 459.6,1006.1C463.7,1010.2 468.2,1014.0 472.6,1017.9C477.0,1021.8 481.3,1025.2 485.7,1029.6C490.1,1033.9 494.4,1039.7 498.8,1044.0C503.2,1048.3 507.5,1051.6 511.8,1055.7C516.1,1059.8 520.5,1065.3 524.9,1068.8C529.2,1072.3 533.5,1074.2 537.9,1076.6C542.2,1079.0 546.6,1080.9 551.0,1083.1C555.4,1085.3 559.6,1087.5 564.0,1089.7C568.4,1091.9 572.7,1094.5 577.1,1096.2C581.5,1097.9 585.9,1099.9 590.2,1100.1C594.6,1100.3 599.5,1099.0 603.2,1097.5C606.9,1096.0 609.5,1093.6 612.3,1091.0C615.1,1088.4 618.0,1085.1 620.2,1081.8C622.4,1078.5 623.5,1074.9 625.4,1071.4C627.3,1067.9 629.5,1065.3 631.9,1061.0C634.3,1056.7 637.4,1050.1 639.8,1045.3C642.2,1040.5 644.3,1036.5 646.3,1032.2C648.2,1027.9 649.8,1023.6 651.5,1019.2C653.2,1014.9 655.3,1010.5 656.7,1006.1C658.1,1001.8 659.3,995.1 660.0,993.1C660.7,991.1 658.9,997.5 661.0,994.0C663.1,990.5 668.2,979.5 672.6,972.2C677.0,965.0 682.3,958.0 687.1,950.5C691.9,943.0 697.2,934.5 701.6,927.3C706.0,920.0 710.3,915.0 713.2,907.0C716.1,899.0 716.6,887.1 718.9,879.0C721.2,870.9 724.4,863.9 727.1,858.4C729.9,852.9 732.6,850.1 735.4,846.0C738.1,841.9 740.9,838.4 743.6,833.6C746.4,828.8 749.1,822.6 751.9,817.1C754.6,811.6 757.4,806.1 760.1,800.6C762.9,795.1 766.1,789.8 768.4,784.1C770.7,778.5 771.4,773.2 774.0,766.7C776.6,760.2 781.0,751.8 784.1,745.0C787.2,738.2 790.1,731.9 792.8,726.1C795.5,720.3 797.9,715.5 800.1,710.2C802.3,704.9 803.7,699.3 805.9,694.2C808.1,689.1 810.7,684.5 813.1,679.7C815.5,674.9 818.2,669.6 820.4,665.2C822.6,660.9 824.3,657.5 826.2,653.6C828.1,649.7 830.1,645.6 832.0,642.0C833.9,638.4 836.5,632.0 837.8,631.9C839.1,631.8 838.7,641.4 840.0,641.2C841.3,641.1 843.4,633.9 845.8,631.0C848.2,628.1 851.6,625.2 854.5,623.8C857.4,622.3 860.8,623.8 863.2,622.3C865.6,620.8 866.6,615.5 869.0,615.1C871.4,614.7 874.6,617.9 877.7,619.7C880.8,621.4 883.9,622.3 887.8,625.5C891.7,628.7 896.8,634.5 900.9,638.6C905.0,642.7 908.1,646.1 912.5,650.2C916.9,654.3 922.2,658.6 927.0,663.2C931.8,667.8 937.6,673.4 941.5,677.7C945.4,682.1 947.3,685.7 950.2,689.3C953.1,692.9 955.5,695.1 958.9,699.5C962.3,703.9 967.1,710.6 970.5,715.4C973.9,720.2 975.8,723.4 979.2,728.5C982.6,733.6 987.2,740.1 990.8,745.9C994.4,751.7 997.4,757.2 1000.9,763.4C1004.4,769.6 1008.7,777.1 1012.0,783.0C1015.3,788.8 1017.7,793.3 1020.6,798.5C1023.5,803.7 1026.1,808.4 1029.3,814.1C1032.5,819.8 1037.3,828.5 1039.5,832.7C1041.7,837.0 1040.2,836.2 1042.7,839.7C1045.2,843.2 1051.1,849.3 1054.4,853.7C1057.7,858.1 1060.5,861.5 1062.6,866.1C1064.6,870.7 1065.2,876.4 1066.7,881.2C1068.2,886.0 1069.8,890.4 1071.5,895.0C1073.2,899.6 1074.9,904.1 1077.0,908.7C1079.1,913.3 1081.4,917.9 1083.9,922.5C1086.4,927.1 1088.7,930.6 1092.2,936.2C1095.7,941.8 1100.9,950.1 1104.9,956.0C1109.0,961.9 1112.8,966.8 1116.5,971.5C1120.2,976.2 1123.8,979.8 1127.2,984.0C1130.6,988.2 1133.9,992.5 1137.1,996.5C1140.3,1000.5 1142.8,1004.0 1146.2,1008.0C1149.6,1012.0 1153.7,1016.3 1157.7,1020.5C1161.7,1024.7 1166.0,1028.8 1170.1,1033.0C1174.2,1037.2 1178.4,1041.6 1182.5,1045.5C1186.6,1049.4 1190.7,1053.4 1194.8,1056.5C1198.9,1059.6 1203.5,1061.8 1207.2,1064.0C1210.9,1066.2 1214.6,1067.8 1217.1,1069.5C1219.6,1071.2 1219.5,1072.7 1222.3,1074.5C1225.1,1076.3 1230.1,1078.5 1234.0,1080.5C1237.9,1082.5 1241.9,1084.4 1245.8,1086.5C1249.7,1088.6 1253.6,1091.0 1257.5,1093.0C1261.4,1095.0 1265.4,1097.5 1269.3,1098.5C1273.2,1099.5 1277.5,1100.2 1281.0,1098.7C1284.5,1097.2 1288.1,1093.2 1290.4,1089.3C1292.8,1085.4 1293.1,1079.1 1295.1,1075.2C1297.1,1071.3 1300.8,1068.5 1302.2,1065.8C1303.6,1063.1 1301.7,1063.3 1303.6,1058.8C1305.5,1054.2 1310.1,1045.5 1313.7,1038.5C1317.3,1031.5 1321.7,1023.2 1325.3,1016.7C1328.9,1010.2 1331.9,1005.3 1335.5,999.3C1339.1,993.3 1342.8,987.3 1347.1,980.5C1351.4,973.7 1356.8,966.0 1361.6,958.7C1366.4,951.5 1373.0,944.8 1376.1,937.0C1379.2,929.2 1377.6,918.4 1380.0,912.2C1382.4,906.0 1386.9,904.4 1390.4,899.7C1393.9,895.0 1397.9,889.7 1400.8,884.2C1403.7,878.7 1405.8,871.4 1408.0,866.5C1410.2,861.6 1412.3,859.1 1414.2,855.1C1416.1,851.1 1417.7,846.8 1419.4,842.6C1421.1,838.5 1422.9,834.4 1424.6,830.2C1426.3,826.1 1428.1,821.7 1429.8,817.7C1431.5,813.7 1431.5,814.5 1435.0,806.3C1438.5,798.1 1446.3,778.4 1450.9,768.5C1455.5,758.6 1459.1,754.0 1462.5,746.7C1465.9,739.5 1468.3,731.5 1471.2,725.0C1474.1,718.5 1477.8,712.5 1479.9,707.6C1482.0,702.7 1481.3,701.5 1483.8,695.8C1486.3,690.0 1491.3,680.6 1495.1,673.1C1498.9,665.6 1503.3,656.5 1506.5,650.5C1509.7,644.5 1511.5,640.9 1514.0,636.9C1516.5,632.9 1519.1,629.4 1521.6,626.3C1524.1,623.1 1527.2,619.9 1529.1,618.0C1531.0,616.1 1531.0,615.1 1532.9,615.0C1534.8,614.9 1538.2,617.3 1540.5,617.2C1542.8,617.1 1544.6,613.7 1546.5,614.2C1548.4,614.7 1549.6,618.6 1551.8,620.2C1554.0,621.8 1556.9,622.5 1559.4,624.0C1561.9,625.5 1564.4,627.1 1566.9,629.3C1569.4,631.4 1572.3,634.6 1574.5,636.9C1576.7,639.2 1577.9,640.0 1580.0,642.9C1582.1,645.8 1583.0,649.7 1587.2,654.3C1591.4,658.9 1599.1,664.7 1605.1,670.4C1611.1,676.1 1617.6,682.6 1623.0,688.3C1628.4,693.9 1632.8,698.9 1637.3,704.3C1641.8,709.6 1645.6,715.0 1649.8,720.4C1654.0,725.8 1658.4,730.8 1662.3,736.5C1666.2,742.2 1670.0,749.0 1673.0,754.4C1676.0,759.8 1677.3,763.9 1680.0,768.7C1682.7,773.5 1686.3,778.0 1689.3,783.0C1692.3,787.9 1695.0,793.3 1697.9,798.5C1700.8,803.7 1703.4,808.4 1706.6,814.1C1709.8,819.8 1714.6,828.5 1716.8,832.7C1719.0,837.0 1717.5,836.2 1720.0,839.7C1722.5,843.2 1728.4,849.3 1731.7,853.7C1735.0,858.1 1737.8,861.5 1739.9,866.1C1741.9,870.7 1742.5,876.4 1744.0,881.2C1745.5,886.0 1747.1,890.4 1748.8,895.0C1750.5,899.6 1752.2,904.1 1754.3,908.7C1756.4,913.3 1758.7,917.9 1761.2,922.5C1763.7,927.1 1766.0,930.6 1769.5,936.2C1773.0,941.8 1778.2,950.1 1782.2,956.0C1786.2,961.9 1790.1,966.8 1793.8,971.5C1797.5,976.2 1801.1,979.8 1804.5,984.0C1807.9,988.2 1811.2,992.5 1814.4,996.5C1817.6,1000.5 1820.1,1004.0 1823.5,1008.0C1826.9,1012.0 1831.0,1016.3 1835.0,1020.5C1839.0,1024.7 1843.3,1028.8 1847.4,1033.0C1851.5,1037.2 1855.7,1041.6 1859.8,1045.5C1863.9,1049.4 1868.0,1053.4 1872.1,1056.5C1876.2,1059.6 1880.8,1061.8 1884.5,1064.0C1888.2,1066.2 1891.9,1067.8 1894.4,1069.5C1896.9,1071.2 1896.8,1072.7 1899.6,1074.5C1902.4,1076.3 1907.4,1078.5 1911.3,1080.5C1915.2,1082.5 1919.2,1084.4 1923.1,1086.5C1927.0,1088.6 1930.9,1091.0 1934.8,1093.0C1938.7,1095.0 1942.7,1097.5 1946.6,1098.5C1950.5,1099.5 1954.8,1100.2 1958.3,1098.7C1961.8,1097.2 1965.4,1093.2 1967.7,1089.3C1970.0,1085.4 1970.4,1079.1 1972.4,1075.2C1974.4,1071.3 1978.1,1068.5 1979.5,1065.8C1980.9,1063.1 1979.0,1063.3 1980.9,1058.8C1982.8,1054.2 1987.4,1045.5 1991.0,1038.5C1994.6,1031.5 1999.0,1023.2 2002.6,1016.7C2006.2,1010.2 2009.9,1004.0 2012.8,999.3C2015.7,994.6 2017.1,994.4 2020.0,988.5C2022.9,982.6 2026.9,971.3 2030.3,963.7C2033.7,956.1 2037.2,949.3 2040.6,943.1C2044.0,936.9 2047.5,932.1 2050.9,926.6C2054.3,921.1 2057.8,916.0 2061.2,910.1C2064.6,904.2 2068.3,897.4 2071.5,891.5C2074.7,885.6 2077.9,881.0 2080.3,875.0C2082.7,869.0 2083.7,861.1 2085.8,855.6C2087.9,850.1 2090.2,846.5 2092.7,841.9C2095.2,837.3 2098.4,832.7 2100.9,828.1C2103.4,823.5 2105.2,819.8 2107.8,814.4C2110.4,809.0 2113.2,803.1 2116.5,796.0C2119.8,788.9 2123.8,779.7 2127.5,772.0C2131.2,764.3 2135.2,757.0 2138.5,750.0C2141.8,743.0 2144.2,736.6 2147.3,730.2C2150.4,723.8 2154.4,717.7 2157.2,711.5C2159.9,705.3 2161.2,699.2 2163.8,692.8C2166.4,686.4 2169.8,678.9 2172.6,673.0C2175.3,667.1 2177.6,662.2 2180.3,657.6C2183.1,653.0 2186.5,649.8 2189.1,645.5C2191.7,641.2 2193.8,636.1 2196.0,632.0C2198.2,627.9 2200.0,624.0 2202.0,621.0C2204.0,618.0 2205.8,615.5 2208.0,614.0C2210.2,612.5 2212.3,611.4 2215.4,612.0C2218.5,612.6 2221.6,614.3 2226.4,617.4C2231.2,620.5 2238.1,625.1 2244.0,630.6C2249.9,636.1 2256.1,645.3 2261.6,650.4C2267.1,655.5 2271.9,656.3 2277.0,661.4C2282.1,666.5 2287.6,675.7 2292.4,681.2C2297.2,686.7 2301.2,689.3 2305.6,694.4C2310.0,699.5 2314.4,706.1 2318.8,712.0C2323.2,717.9 2327.6,722.9 2332.0,729.5C2336.4,736.1 2340.8,744.5 2345.2,751.5C2349.6,758.5 2354.2,765.1 2358.3,771.3C2362.4,777.5 2368.1,786.0 2370.0,788.9"/>
</g>
<g font-family="'Liberation Serif', 'DejaVu Serif', serif" font-size="50" fill="#000000">
<path d="M1750.9,98.4H1833" stroke="#000000" stroke-width="10" fill="none"/>
<text x="1843.2" y="110.3" transform="translate(1843.2,0) scale(1.0677,1) translate(-1843.2,0)">UKF non optimized</text>
<path d="M1750.9,158.8H1833" stroke="#B21E1E" stroke-width="10" fill="none"/>
<text x="1843.2" y="170.7" transform="translate(1843.2,0) scale(1.0378,1) translate(-1843.2,0)">UKF-ALO</text>
<path d="M1750.9,219.2H1833" stroke="#0066FF" stroke-width="10" fill="none"/>
<text x="1843.2" y="231.1" transform="translate(1843.2,0) scale(1.0368,1) translate(-1843.2,0)">UKF-BA</text>
<path d="M1750.9,279.6H1833" stroke="#FF7F33" stroke-width="10" fill="none"/>
<text x="1843.2" y="291.5" transform="translate(1843.2,0) scale(1.0432,1) translate(-1843.2,0)">UKF-GWO</text>
<path d="M1750.9,340.0H1833" stroke="#D4B000" stroke-width="10" fill="none"/>
<text x="1843.2" y="351.9" transform="translate(1843.2,0) scale(1.0448,1) translate(-1843.2,0)">UKF-MFO</text>
<path d="M1750.9,400.4H1833" stroke="#2E8B38" stroke-width="10" fill="none"/>
<text x="1843.2" y="412.3" transform="translate(1843.2,0) scale(1.0612,1) translate(-1843.2,0)">UKF-PSO</text>
</g>
</svg>
</body></html>
